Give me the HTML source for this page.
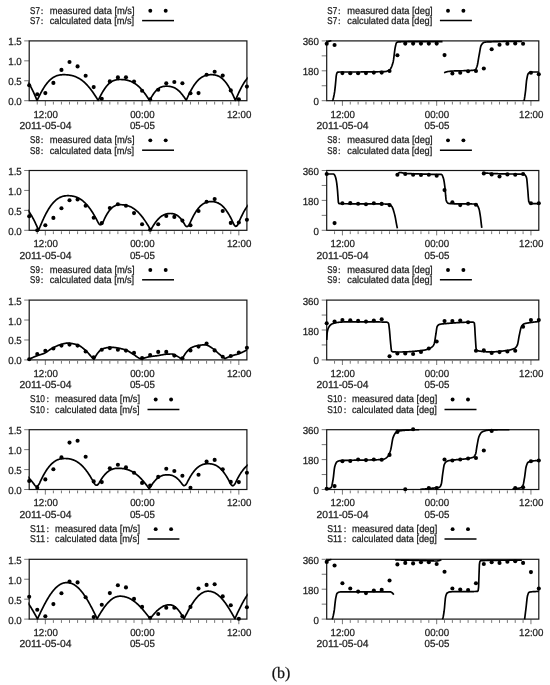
<!DOCTYPE html>
<html lang="en"><head><meta charset="utf-8"><title>Figure (b)</title>
<style>html,body{margin:0;padding:0;background:#fff}body{width:550px;height:685px;overflow:hidden}</style></head>
<body>
<svg width="550" height="685" viewBox="0 0 550 685" style="display:block;font-family:'Liberation Sans', 'Noto Sans CJK SC', sans-serif">
<style>text{stroke:#1a1a1a;stroke-width:0.25px;paint-order:stroke;text-rendering:geometricPrecision}</style>
<rect width="550" height="685" fill="#fff"/>
<defs>
<clipPath id="c00"><rect x="28.4" y="40.1" width="219.3" height="61.4"/></clipPath>
<clipPath id="c01"><rect x="325.9" y="40.1" width="213.7" height="61.4"/></clipPath>
<clipPath id="c10"><rect x="28.4" y="169.7" width="219.3" height="61.4"/></clipPath>
<clipPath id="c11"><rect x="325.9" y="169.7" width="213.7" height="61.4"/></clipPath>
<clipPath id="c20"><rect x="28.4" y="299.3" width="219.3" height="61.4"/></clipPath>
<clipPath id="c21"><rect x="325.9" y="299.3" width="213.7" height="61.4"/></clipPath>
<clipPath id="c30"><rect x="28.4" y="428.9" width="219.3" height="61.4"/></clipPath>
<clipPath id="c31"><rect x="325.9" y="428.9" width="213.7" height="61.4"/></clipPath>
<clipPath id="c40"><rect x="28.4" y="558.5" width="219.3" height="61.4"/></clipPath>
<clipPath id="c41"><rect x="325.9" y="558.5" width="213.7" height="61.4"/></clipPath>
</defs>
<text x="30.1" y="13.5" font-size="9.9" fill="#1a1a1a" textLength="9.8" lengthAdjust="spacingAndGlyphs">S7</text>
<text x="40.2" y="13.5" font-size="7.2" fill="#1a1a1a">：</text>
<text x="49.7" y="13.5" font-size="9.9" fill="#1a1a1a" textLength="84.9" lengthAdjust="spacingAndGlyphs">measured data [m/s]</text>
<text x="30.1" y="23.9" font-size="9.9" fill="#1a1a1a" textLength="9.8" lengthAdjust="spacingAndGlyphs">S7</text>
<text x="40.2" y="23.9" font-size="7.2" fill="#1a1a1a">：</text>
<text x="49.7" y="23.9" font-size="9.9" fill="#1a1a1a" textLength="84.5" lengthAdjust="spacingAndGlyphs">calculated data [m/s]</text>
<circle cx="150.3" cy="10.75" r="1.95" fill="#000"/>
<circle cx="165.7" cy="10.75" r="1.95" fill="#000"/>
<path d="M142.1 20.6H174" stroke="#000" stroke-width="1.5" fill="none"/>
<path d="M37.26 101.7v2.8M45.33 101v4.8M53.39 101.7v2.8M61.45 101.7v2.8M69.51 101.7v2.8M77.58 101.7v2.8M85.64 101.7v2.8M93.7 101.7v2.8M101.77 101.7v2.8M109.83 101.7v2.8M117.89 101.7v2.8M125.96 101.7v2.8M134.02 101.7v2.8M142.08 101v4.8M150.14 101.7v2.8M158.21 101.7v2.8M166.27 101.7v2.8M174.33 101.7v2.8M182.4 101.7v2.8M190.46 101.7v2.8M198.52 101.7v2.8M206.59 101.7v2.8M214.65 101.7v2.8M222.71 101.7v2.8M230.77 101.7v2.8M238.84 101v4.8" stroke="#777" stroke-width="1" fill="none"/>
<path d="M24.2 100.7h5M24.2 80.77h5M24.2 60.83h5M24.2 40.9h5" stroke="#777" stroke-width="1" fill="none"/>
<text x="8.26" y="105.2" font-size="10.2" fill="#1a1a1a" textLength="13.54" lengthAdjust="spacingAndGlyphs">0.0</text>
<text x="8.26" y="85.27" font-size="10.2" fill="#1a1a1a" textLength="13.54" lengthAdjust="spacingAndGlyphs">0.5</text>
<text x="8.26" y="65.33" font-size="10.2" fill="#1a1a1a" textLength="13.54" lengthAdjust="spacingAndGlyphs">1.0</text>
<text x="8.26" y="45.4" font-size="10.2" fill="#1a1a1a" textLength="13.54" lengthAdjust="spacingAndGlyphs">1.5</text>
<rect x="29.2" y="40.9" width="217.7" height="59.8" fill="none" stroke="#151515" stroke-width="1.2"/>
<text x="33.44" y="117.5" font-size="10.2" fill="#1a1a1a" textLength="24.38" lengthAdjust="spacingAndGlyphs">12:00</text>
<text x="19.43" y="129" font-size="10.2" fill="#1a1a1a" textLength="52.0" lengthAdjust="spacingAndGlyphs">2011-05-04</text>
<text x="130.19" y="117.5" font-size="10.2" fill="#1a1a1a" textLength="24.38" lengthAdjust="spacingAndGlyphs">00:00</text>
<text x="129.92" y="129" font-size="10.2" fill="#1a1a1a" textLength="24.91" lengthAdjust="spacingAndGlyphs">05-05</text>
<text x="226.95" y="117.5" font-size="10.2" fill="#1a1a1a" textLength="24.38" lengthAdjust="spacingAndGlyphs">12:00</text>
<path d="M11.1 71.88 L11.6 71.88 L12.1 71.9 L12.6 71.93 L13.1 71.96 L13.6 72.01 L14.1 72.08 L14.6 72.15 L15.1 72.24 L15.6 72.35 L16.1 72.48 L16.6 72.62 L17.1 72.78 L17.6 72.95 L18.1 73.15 L18.6 73.37 L19.1 73.61 L19.6 73.87 L20.1 74.16 L20.6 74.46 L21.1 74.8 L21.6 75.15 L22.1 75.54 L22.6 75.95 L23.1 76.39 L23.6 76.85 L24.1 77.35 L24.6 77.87 L25.1 78.42 L25.6 79 L26.1 79.61 L26.6 80.26 L27.1 80.93 L27.6 81.64 L28.1 82.37 L28.6 83.14 L29.1 83.94 L29.6 84.77 L30.1 85.63 L30.6 86.52 L31.1 87.44 L31.6 88.39 L32.1 89.36 L32.6 90.37 L33.1 91.4 L33.6 92.46 L34.1 93.55 L34.6 94.66 L35.1 95.79 L35.6 96.94 L36.1 98.11 L36.6 99.3 L37.1 100.5 L37.6 99.44 L38.1 98.39 L38.6 97.36 L39.1 96.34 L39.6 95.35 L40.1 94.37 L40.6 93.41 L41.1 92.47 L41.6 91.56 L42.1 90.66 L42.6 89.8 L43.1 88.95 L43.6 88.13 L44.1 87.34 L44.6 86.58 L45.1 85.84 L45.6 85.12 L46.1 84.44 L46.6 83.78 L47.1 83.14 L47.6 82.54 L48.1 81.96 L48.6 81.4 L49.1 80.88 L49.6 80.38 L50.1 79.9 L50.6 79.45 L51.1 79.02 L51.6 78.62 L52.1 78.25 L52.6 77.89 L53.1 77.56 L53.6 77.25 L54.1 76.96 L54.6 76.7 L55.1 76.45 L55.6 76.22 L56.1 76.01 L56.6 75.82 L57.1 75.65 L57.6 75.5 L58.1 75.36 L58.6 75.23 L59.1 75.13 L59.6 75.03 L60.1 74.95 L60.6 74.88 L61.1 74.82 L61.6 74.78 L62.1 74.74 L62.6 74.72 L63.1 74.71 L63.6 74.7 L63.7 74.7 L64.2 74.7 L64.7 74.71 L65.2 74.72 L65.7 74.74 L66.2 74.77 L66.7 74.8 L67.2 74.83 L67.7 74.88 L68.2 74.93 L68.7 74.99 L69.2 75.06 L69.7 75.13 L70.2 75.21 L70.7 75.31 L71.2 75.41 L71.7 75.52 L72.2 75.64 L72.7 75.77 L73.2 75.91 L73.7 76.06 L74.2 76.22 L74.7 76.39 L75.2 76.58 L75.7 76.78 L76.2 76.98 L76.7 77.21 L77.2 77.44 L77.7 77.69 L78.2 77.95 L78.7 78.22 L79.2 78.51 L79.7 78.81 L80.2 79.13 L80.7 79.46 L81.2 79.8 L81.7 80.16 L82.2 80.54 L82.7 80.93 L83.2 81.33 L83.7 81.76 L84.2 82.19 L84.7 82.65 L85.2 83.11 L85.7 83.6 L86.2 84.1 L86.7 84.62 L87.2 85.15 L87.7 85.7 L88.2 86.26 L88.7 86.84 L89.2 87.44 L89.7 88.05 L90.2 88.67 L90.7 89.32 L91.2 89.97 L91.7 90.64 L92.2 91.33 L92.7 92.03 L93.2 92.74 L93.7 93.47 L94.2 94.2 L94.7 94.95 L95.2 95.72 L95.7 96.49 L96.2 97.27 L96.7 98.07 L97.2 98.87 L97.7 99.68 L98.2 100.5 L98.7 99.45 L99.2 98.42 L99.7 97.41 L100.2 96.42 L100.7 95.45 L101.2 94.51 L101.7 93.59 L102.2 92.7 L102.7 91.83 L103.2 91 L103.7 90.2 L104.2 89.43 L104.7 88.69 L105.2 87.98 L105.7 87.3 L106.2 86.66 L106.7 86.05 L107.2 85.47 L107.7 84.92 L108.2 84.41 L108.7 83.92 L109.2 83.47 L109.7 83.04 L110.2 82.65 L110.7 82.28 L111.2 81.94 L111.7 81.63 L112.2 81.34 L112.7 81.08 L113.2 80.84 L113.7 80.63 L114.2 80.43 L114.7 80.26 L115.2 80.11 L115.7 79.98 L116.2 79.87 L116.7 79.77 L117.2 79.69 L117.7 79.63 L118.2 79.58 L118.7 79.54 L119.2 79.52 L119.7 79.5 L120.1 79.5 L120.6 79.5 L121.1 79.51 L121.6 79.53 L122.1 79.55 L122.6 79.57 L123.1 79.61 L123.6 79.65 L124.1 79.7 L124.6 79.76 L125.1 79.83 L125.6 79.91 L126.1 80 L126.6 80.09 L127.1 80.2 L127.6 80.32 L128.1 80.45 L128.6 80.59 L129.1 80.74 L129.6 80.91 L130.1 81.09 L130.6 81.28 L131.1 81.49 L131.6 81.71 L132.1 81.94 L132.6 82.19 L133.1 82.46 L133.6 82.74 L134.1 83.04 L134.6 83.35 L135.1 83.68 L135.6 84.02 L136.1 84.38 L136.6 84.76 L137.1 85.16 L137.6 85.57 L138.1 86.01 L138.6 86.45 L139.1 86.92 L139.6 87.41 L140.1 87.91 L140.6 88.43 L141.1 88.97 L141.6 89.52 L142.1 90.09 L142.6 90.68 L143.1 91.29 L143.6 91.91 L144.1 92.55 L144.6 93.21 L145.1 93.88 L145.6 94.56 L146.1 95.26 L146.6 95.98 L147.1 96.7 L147.6 97.44 L148.1 98.19 L148.6 98.95 L149.1 99.72 L149.6 100.5 L150.1 99.57 L150.6 98.67 L151.1 97.78 L151.6 96.92 L152.1 96.09 L152.6 95.29 L153.1 94.53 L153.6 93.8 L154.1 93.1 L154.6 92.44 L155.1 91.82 L155.6 91.23 L156.1 90.68 L156.6 90.17 L157.1 89.7 L157.6 89.26 L158.1 88.85 L158.6 88.48 L159.1 88.15 L159.6 87.85 L160.1 87.57 L160.6 87.33 L161.1 87.12 L161.6 86.93 L162.1 86.77 L162.6 86.63 L163.1 86.51 L163.6 86.42 L164.1 86.34 L164.6 86.28 L165.1 86.24 L165.6 86.22 L166.1 86.2 L166.4 86.2 L166.9 86.2 L167.4 86.22 L167.9 86.24 L168.4 86.27 L168.9 86.32 L169.4 86.37 L169.9 86.44 L170.4 86.53 L170.9 86.63 L171.4 86.74 L171.9 86.87 L172.4 87.02 L172.9 87.19 L173.4 87.38 L173.9 87.59 L174.4 87.82 L174.9 88.07 L175.4 88.34 L175.9 88.64 L176.4 88.96 L176.9 89.31 L177.4 89.68 L177.9 90.07 L178.4 90.5 L178.9 90.95 L179.4 91.42 L179.9 91.92 L180.4 92.45 L180.9 93.01 L181.4 93.59 L181.9 94.19 L182.4 94.82 L182.9 95.48 L183.4 96.15 L183.9 96.85 L184.4 97.57 L184.9 98.31 L185.4 99.06 L185.9 99.83 L186.2 100.3 L186.7 99.19 L187.2 98.09 L187.7 97 L188.2 95.94 L188.7 94.89 L189.2 93.87 L189.7 92.87 L190.2 91.9 L190.7 90.95 L191.2 90.02 L191.7 89.13 L192.2 88.26 L192.7 87.42 L193.2 86.61 L193.7 85.82 L194.2 85.07 L194.7 84.35 L195.2 83.66 L195.7 82.99 L196.2 82.36 L196.7 81.76 L197.2 81.18 L197.7 80.64 L198.2 80.12 L198.7 79.64 L199.2 79.18 L199.7 78.74 L200.2 78.34 L200.7 77.96 L201.2 77.6 L201.7 77.28 L202.2 76.97 L202.7 76.69 L203.2 76.43 L203.7 76.19 L204.2 75.97 L204.7 75.78 L205.2 75.6 L205.7 75.44 L206.2 75.3 L206.7 75.18 L207.2 75.07 L207.7 74.98 L208.2 74.9 L208.7 74.84 L209.2 74.79 L209.7 74.75 L210.2 74.72 L210.7 74.71 L211.2 74.7 L211.3 74.7 L211.8 74.71 L212.3 74.72 L212.8 74.75 L213.3 74.79 L213.8 74.84 L214.3 74.91 L214.8 74.99 L215.3 75.09 L215.8 75.2 L216.3 75.34 L216.8 75.49 L217.3 75.66 L217.8 75.85 L218.3 76.07 L218.8 76.3 L219.3 76.56 L219.8 76.84 L220.3 77.15 L220.8 77.49 L221.3 77.85 L221.8 78.24 L222.3 78.66 L222.8 79.1 L223.3 79.58 L223.8 80.08 L224.3 80.62 L224.8 81.19 L225.3 81.79 L225.8 82.42 L226.3 83.09 L226.8 83.79 L227.3 84.52 L227.8 85.28 L228.3 86.07 L228.8 86.9 L229.3 87.76 L229.8 88.65 L230.3 89.58 L230.8 90.53 L231.3 91.51 L231.8 92.52 L232.3 93.56 L232.8 94.62 L233.3 95.71 L233.8 96.82 L234.3 97.95 L234.8 99.1 L235.3 100.26 L235.4 100.5 L235.9 99.29 L236.4 98.1 L236.9 96.92 L237.4 95.76 L237.9 94.63 L238.4 93.51 L238.9 92.42 L239.4 91.36 L239.9 90.32 L240.4 89.31 L240.9 88.33 L241.4 87.37 L241.9 86.45 L242.4 85.55 L242.9 84.69 L243.4 83.86 L243.9 83.06 L244.4 82.29 L244.9 81.55 L245.4 80.84 L245.9 80.16 L246.4 79.52 L246.9 78.9 L247.4 78.32 L247.9 77.76 L248.4 77.24 L248.9 76.74 L249.4 76.27 L249.9 75.83 L250.4 75.42 L250.9 75.03 L251.4 74.67 L251.9 74.34 L252.4 74.03 L252.9 73.74 L253.4 73.48 L253.9 73.24 L254.4 73.02 L254.9 72.82 L255.4 72.64 L255.9 72.48 L256.4 72.34 L256.9 72.22 L257.4 72.11 L257.9 72.02 L258.4 71.94 L258.9 71.88 L259.4 71.83 L259.9 71.79 L260.4 71.76 L260.9 71.75 L261.4 71.74" fill="none" stroke="#000" stroke-width="1.7" stroke-linejoin="round" stroke-linecap="butt" clip-path="url(#c00)"/>
<g fill="#000"><circle cx="29.2" cy="85.2" r="2.05"/><circle cx="37.26" cy="94.2" r="2.05"/><circle cx="45.33" cy="93.1" r="2.05"/><circle cx="53.39" cy="82.9" r="2.05"/><circle cx="61.45" cy="69.9" r="2.05"/><circle cx="69.51" cy="62" r="2.05"/><circle cx="77.58" cy="66.4" r="2.05"/><circle cx="85.64" cy="75.8" r="2.05"/><circle cx="93.7" cy="87.1" r="2.05"/><circle cx="101.77" cy="98.8" r="2.05"/><circle cx="109.83" cy="81.4" r="2.05"/><circle cx="117.89" cy="77.4" r="2.05"/><circle cx="125.96" cy="77.2" r="2.05"/><circle cx="134.02" cy="81.6" r="2.05"/><circle cx="142.08" cy="90.8" r="2.05"/><circle cx="150.14" cy="99.4" r="2.05"/><circle cx="158.21" cy="89.8" r="2.05"/><circle cx="166.27" cy="83.3" r="2.05"/><circle cx="174.33" cy="82" r="2.05"/><circle cx="182.4" cy="83.3" r="2.05"/><circle cx="190.46" cy="93.3" r="2.05"/><circle cx="198.52" cy="93.1" r="2.05"/><circle cx="206.59" cy="74.7" r="2.05"/><circle cx="214.65" cy="71.8" r="2.05"/><circle cx="222.71" cy="75.6" r="2.05"/><circle cx="230.77" cy="90.4" r="2.05"/><circle cx="238.84" cy="99.2" r="2.05"/><circle cx="246.9" cy="86.6" r="2.05"/></g>
<text x="327.3" y="13.5" font-size="9.9" fill="#1a1a1a" textLength="9.8" lengthAdjust="spacingAndGlyphs">S7</text>
<text x="337.4" y="13.5" font-size="7.2" fill="#1a1a1a">：</text>
<text x="347.3" y="13.5" font-size="9.9" fill="#1a1a1a" textLength="85.4" lengthAdjust="spacingAndGlyphs">measured data [deg]</text>
<text x="327.3" y="23.9" font-size="9.9" fill="#1a1a1a" textLength="9.8" lengthAdjust="spacingAndGlyphs">S7</text>
<text x="337.4" y="23.9" font-size="7.2" fill="#1a1a1a">：</text>
<text x="347.3" y="23.9" font-size="9.9" fill="#1a1a1a" textLength="85" lengthAdjust="spacingAndGlyphs">calculated data [deg]</text>
<circle cx="448" cy="10.75" r="1.95" fill="#000"/>
<circle cx="463.4" cy="10.75" r="1.95" fill="#000"/>
<path d="M439.9 20.6H471.9" stroke="#000" stroke-width="1.5" fill="none"/>
<path d="M334.56 101.7v2.8M342.41 101v4.8M350.27 101.7v2.8M358.12 101.7v2.8M365.98 101.7v2.8M373.83 101.7v2.8M381.69 101.7v2.8M389.54 101.7v2.8M397.4 101.7v2.8M405.26 101.7v2.8M413.11 101.7v2.8M420.97 101.7v2.8M428.82 101.7v2.8M436.68 101v4.8M444.53 101.7v2.8M452.39 101.7v2.8M460.24 101.7v2.8M468.1 101.7v2.8M475.96 101.7v2.8M483.81 101.7v2.8M491.67 101.7v2.8M499.52 101.7v2.8M507.38 101.7v2.8M515.23 101.7v2.8M523.09 101.7v2.8M530.94 101v4.8" stroke="#777" stroke-width="1" fill="none"/>
<path d="M321.7 100.7h5M321.7 85.75h5M321.7 70.8h5M321.7 55.85h5M321.7 40.9h5" stroke="#777" stroke-width="1" fill="none"/>
<text x="313.48" y="105.2" font-size="10.2" fill="#1a1a1a" textLength="5.42" lengthAdjust="spacingAndGlyphs">0</text>
<text x="302.65" y="75.3" font-size="10.2" fill="#1a1a1a" textLength="16.25" lengthAdjust="spacingAndGlyphs">180</text>
<text x="302.65" y="45.4" font-size="10.2" fill="#1a1a1a" textLength="16.25" lengthAdjust="spacingAndGlyphs">360</text>
<rect x="326.7" y="40.9" width="212.1" height="59.8" fill="none" stroke="#151515" stroke-width="1.2"/>
<text x="330.52" y="117.5" font-size="10.2" fill="#1a1a1a" textLength="24.38" lengthAdjust="spacingAndGlyphs">12:00</text>
<text x="316.51" y="129" font-size="10.2" fill="#1a1a1a" textLength="52.0" lengthAdjust="spacingAndGlyphs">2011-05-04</text>
<text x="424.79" y="117.5" font-size="10.2" fill="#1a1a1a" textLength="24.38" lengthAdjust="spacingAndGlyphs">00:00</text>
<text x="424.52" y="129" font-size="10.2" fill="#1a1a1a" textLength="24.91" lengthAdjust="spacingAndGlyphs">05-05</text>
<text x="519.06" y="117.5" font-size="10.2" fill="#1a1a1a" textLength="24.38" lengthAdjust="spacingAndGlyphs">12:00</text>
<path d="M326.7 42.3 L331.4 40.5 M332.2 100.9 L332.6 100.46 L333 99.45 L333.4 97.98 L333.8 96.19 L334.21 94.2 L334.61 91.92 L335.01 88.6 L335.41 84.92 L335.81 80.52 L336.21 76.13 L336.61 73.95 L337.01 72.91 L337.41 72.3 L337.82 72.16 L338.22 72.11 L338.62 72.06 L339.02 72.03 L339.42 72.01 L339.82 72 L340.22 72 L340.62 72 L341.02 72 L341.43 72 L341.83 72 L342.23 72 L342.63 72 L343.03 72 L343.43 72 L343.83 72 L344.23 72 L344.63 72 L345.03 72 L345.44 72 L345.84 72 L346.24 72 L346.64 72 L347.04 72 L347.44 72 L347.84 72 L348.24 72 L348.64 72 L349.05 72 L349.45 72 L349.85 72 L350.25 72 L350.65 72 L351.05 72 L351.45 72 L351.85 72 L352.25 72 L352.66 72 L353.06 72 L353.46 72 L353.86 72 L354.26 72 L354.66 72 L355.06 72 L355.46 71.99 L355.86 71.99 L356.27 71.99 L356.67 71.99 L357.07 71.99 L357.47 71.99 L357.87 71.99 L358.27 71.99 L358.67 71.99 L359.07 71.98 L359.47 71.98 L359.88 71.98 L360.28 71.98 L360.68 71.98 L361.08 71.97 L361.48 71.97 L361.88 71.97 L362.28 71.97 L362.68 71.96 L363.08 71.96 L363.49 71.96 L363.89 71.96 L364.29 71.95 L364.69 71.95 L365.09 71.95 L365.49 71.94 L365.89 71.94 L366.29 71.94 L366.69 71.93 L367.09 71.93 L367.5 71.93 L367.9 71.92 L368.3 71.92 L368.7 71.91 L369.1 71.91 L369.5 71.9 L369.9 71.9 L370.3 71.89 L370.7 71.89 L371.11 71.88 L371.51 71.88 L371.91 71.87 L372.31 71.87 L372.71 71.86 L373.11 71.85 L373.51 71.85 L373.91 71.84 L374.31 71.84 L374.72 71.83 L375.12 71.82 L375.52 71.81 L375.92 71.81 L376.32 71.8 L376.72 71.79 L377.12 71.78 L377.52 71.78 L377.92 71.77 L378.33 71.76 L378.73 71.75 L379.13 71.74 L379.53 71.73 L379.93 71.72 L380.33 71.71 L380.73 71.71 L381.13 71.7 L381.53 71.69 L381.94 71.68 L382.34 71.67 L382.74 71.65 L383.14 71.64 L383.54 71.63 L383.94 71.62 L384.34 71.61 L384.74 71.6 L385.14 71.57 L385.55 71.52 L385.95 71.44 L386.35 71.34 L386.75 71.21 L387.15 71.06 L387.55 70.89 L387.95 70.7 L388.35 70.49 L388.75 70.26 L389.15 70.01 L389.56 69.74 L389.96 69.46 L390.36 69.05 L390.76 68.47 L391.16 67.73 L391.56 66.84 L391.96 65.81 L392.36 64.64 L392.76 63.36 L393.17 61.95 L393.57 59.7 L393.97 56.64 L394.37 53.26 L394.77 50.09 L395.17 47.63 L395.57 45.78 L395.97 44.08 L396.37 42.91 L396.78 42.49 L397.18 42.27 L397.58 42.09 L397.98 41.95 L398.38 41.86 L398.78 41.81 L399.18 41.8 L399.58 41.79 L399.98 41.79 L400.39 41.78 L400.79 41.78 L401.19 41.77 L401.59 41.77 L401.99 41.77 L402.39 41.76 L402.79 41.76 L403.19 41.76 L403.59 41.75 L404 41.75 L404.4 41.75 L404.8 41.74 L405.2 41.74 L405.6 41.74 L406 41.73 L406.4 41.73 L406.8 41.73 L407.2 41.73 L407.61 41.73 L408.01 41.72 L408.41 41.72 L408.81 41.72 L409.21 41.72 L409.61 41.72 L410.01 41.71 L410.41 41.71 L410.81 41.71 L411.21 41.71 L411.62 41.71 L412.02 41.71 L412.42 41.71 L412.82 41.71 L413.22 41.71 L413.62 41.71 L414.02 41.7 L414.42 41.7 L414.82 41.7 L415.23 41.7 L415.63 41.7 L416.03 41.7 L416.43 41.7 L416.83 41.7 L417.23 41.7 L417.63 41.7 L418.03 41.7 L418.43 41.7 L418.84 41.7 L419.24 41.7 L419.64 41.7 L420.04 41.7 L420.44 41.7 L420.84 41.7 L421.24 41.7 L421.64 41.7 L422.04 41.7 L422.45 41.7 L422.85 41.7 L423.25 41.7 L423.65 41.7 L424.05 41.7 L424.45 41.7 L424.85 41.7 L425.25 41.7 L425.65 41.7 L426.06 41.7 L426.46 41.7 L426.86 41.7 L427.26 41.7 L427.66 41.7 L428.06 41.7 L428.46 41.7 L428.86 41.7 L429.26 41.7 L429.67 41.7 L430.07 41.7 L430.47 41.7 L430.87 41.7 L431.27 41.7 L431.67 41.7 L432.07 41.7 L432.47 41.7 L432.87 41.7 L433.27 41.7 L433.68 41.7 L434.08 41.7 L434.48 41.7 L434.88 41.7 L435.28 41.7 L435.68 41.7 L436.08 41.7 L436.48 41.7 L436.88 41.7 L437.29 41.7 L437.69 41.7 L438.09 41.7 L438.49 41.7 L438.89 41.7 L439.29 41.7 L439.69 41.7 L440.09 41.7 L440.49 41.7 L440.9 41.7 L441.3 41.7 L441.7 41.7 L442.1 41.7 L442.5 41.7 M444.1 72.8 L444.5 72.63 L444.9 72.46 L445.3 72.3 L445.7 72.15 L446.11 72.01 L446.51 71.89 L446.91 71.77 L447.31 71.68 L447.71 71.6 L448.11 71.53 L448.51 71.47 L448.91 71.41 L449.31 71.36 L449.71 71.31 L450.12 71.26 L450.52 71.22 L450.92 71.19 L451.32 71.15 L451.72 71.12 L452.12 71.09 L452.52 71.06 L452.92 71.04 L453.32 71.02 L453.72 70.99 L454.13 70.97 L454.53 70.95 L454.93 70.94 L455.33 70.92 L455.73 70.9 L456.13 70.89 L456.53 70.87 L456.93 70.86 L457.33 70.85 L457.74 70.84 L458.14 70.83 L458.54 70.82 L458.94 70.81 L459.34 70.8 L459.74 70.79 L460.14 70.79 L460.54 70.78 L460.94 70.77 L461.34 70.77 L461.75 70.76 L462.15 70.75 L462.55 70.75 L462.95 70.74 L463.35 70.73 L463.75 70.72 L464.15 70.71 L464.55 70.71 L464.95 70.7 L465.35 70.69 L465.76 70.68 L466.16 70.67 L466.56 70.65 L466.96 70.64 L467.36 70.63 L467.76 70.61 L468.16 70.6 L468.56 70.58 L468.96 70.56 L469.36 70.54 L469.77 70.52 L470.17 70.5 L470.57 70.48 L470.97 70.45 L471.37 70.42 L471.77 70.39 L472.17 70.36 L472.57 70.33 L472.97 70.3 L473.38 70.26 L473.78 70.22 L474.18 70.18 L474.58 70.14 L474.98 70.08 L475.38 69.8 L475.78 69.23 L476.18 68.43 L476.58 67.48 L476.98 66.44 L477.39 65.02 L477.79 62.99 L478.19 60.63 L478.59 58.19 L478.99 55.95 L479.39 53.74 L479.79 51.34 L480.19 49.02 L480.59 47.06 L480.99 45.72 L481.4 45 L481.8 44.39 L482.2 43.85 L482.6 43.39 L483 43 L483.4 42.69 L483.8 42.46 L484.2 42.32 L484.6 42.24 L485.01 42.17 L485.41 42.11 L485.81 42.06 L486.21 42.02 L486.61 41.98 L487.01 41.95 L487.41 41.93 L487.81 41.91 L488.21 41.89 L488.61 41.88 L489.02 41.86 L489.42 41.85 L489.82 41.83 L490.22 41.82 L490.62 41.81 L491.02 41.79 L491.42 41.78 L491.82 41.77 L492.22 41.75 L492.62 41.74 L493.03 41.73 L493.43 41.71 L493.83 41.7 L494.23 41.69 L494.63 41.68 L495.03 41.67 L495.43 41.66 L495.83 41.64 L496.23 41.63 L496.64 41.62 L497.04 41.61 L497.44 41.6 L497.84 41.59 L498.24 41.58 L498.64 41.57 L499.04 41.56 L499.44 41.55 L499.84 41.54 L500.24 41.53 L500.65 41.52 L501.05 41.52 L501.45 41.51 L501.85 41.5 L502.25 41.49 L502.65 41.48 L503.05 41.47 L503.45 41.47 L503.85 41.46 L504.25 41.45 L504.66 41.45 L505.06 41.44 L505.46 41.43 L505.86 41.43 L506.26 41.42 L506.66 41.41 L507.06 41.41 L507.46 41.4 L507.86 41.4 L508.26 41.39 L508.67 41.38 L509.07 41.38 L509.47 41.37 L509.87 41.37 L510.27 41.36 L510.67 41.36 L511.07 41.36 L511.47 41.35 L511.87 41.35 L512.28 41.34 L512.68 41.34 L513.08 41.34 L513.48 41.33 L513.88 41.33 L514.28 41.33 L514.68 41.32 L515.08 41.32 L515.48 41.32 L515.88 41.32 L516.29 41.31 L516.69 41.31 L517.09 41.31 L517.49 41.31 L517.89 41.31 L518.29 41.31 L518.69 41.3 L519.09 41.3 L519.49 41.3 L519.89 41.3 L520.3 41.3 L520.7 41.3 L521.1 41.3 L521.5 41.3 L521.9 41.3 M524 100.9 L524.41 98.96 L524.82 96.44 L525.23 93.48 L525.64 90.08 L526.06 85.32 L526.47 81.22 L526.88 78.72 L527.29 76.56 L527.7 74.88 L528.11 73.83 L528.52 73.32 L528.93 72.91 L529.34 72.59 L529.76 72.36 L530.17 72.22 L530.58 72.16 L530.99 72.11 L531.4 72.07 L531.81 72.04 L532.22 72.02 L532.63 72 L533.04 72 L533.46 72 L533.87 72 L534.28 72 L534.69 72 L535.1 72 L535.51 72 L535.92 72 L536.33 72 L536.74 72 L537.16 72 L537.57 72 L537.98 72 L538.39 72 L538.8 72" fill="none" stroke="#000" stroke-width="1.7" stroke-linejoin="round" stroke-linecap="butt" clip-path="url(#c01)"/>
<g fill="#000"><circle cx="326.7" cy="43.8" r="2.05"/><circle cx="334.56" cy="45" r="2.05"/><circle cx="342.41" cy="73.1" r="2.05"/><circle cx="350.27" cy="73.3" r="2.05"/><circle cx="358.12" cy="73.3" r="2.05"/><circle cx="365.98" cy="73.1" r="2.05"/><circle cx="373.83" cy="72.6" r="2.05"/><circle cx="381.69" cy="72.6" r="2.05"/><circle cx="389.54" cy="71" r="2.05"/><circle cx="397.4" cy="55.3" r="2.05"/><circle cx="405.26" cy="43.6" r="2.05"/><circle cx="413.11" cy="43.6" r="2.05"/><circle cx="420.97" cy="43.6" r="2.05"/><circle cx="428.82" cy="43.6" r="2.05"/><circle cx="436.68" cy="43.6" r="2.05"/><circle cx="444.53" cy="55.1" r="2.05"/><circle cx="452.39" cy="73.5" r="2.05"/><circle cx="460.24" cy="72.8" r="2.05"/><circle cx="468.1" cy="71.2" r="2.05"/><circle cx="475.96" cy="71" r="2.05"/><circle cx="483.81" cy="68.5" r="2.05"/><circle cx="491.67" cy="49.2" r="2.05"/><circle cx="499.52" cy="44.8" r="2.05"/><circle cx="507.38" cy="43.8" r="2.05"/><circle cx="515.23" cy="43.4" r="2.05"/><circle cx="523.09" cy="43.8" r="2.05"/><circle cx="530.94" cy="72.8" r="2.05"/><circle cx="538.8" cy="74.3" r="2.05"/></g>
<text x="30.1" y="143.1" font-size="9.9" fill="#1a1a1a" textLength="9.8" lengthAdjust="spacingAndGlyphs">S8</text>
<text x="40.2" y="143.1" font-size="7.2" fill="#1a1a1a">：</text>
<text x="49.7" y="143.1" font-size="9.9" fill="#1a1a1a" textLength="84.9" lengthAdjust="spacingAndGlyphs">measured data [m/s]</text>
<text x="30.1" y="153.5" font-size="9.9" fill="#1a1a1a" textLength="9.8" lengthAdjust="spacingAndGlyphs">S8</text>
<text x="40.2" y="153.5" font-size="7.2" fill="#1a1a1a">：</text>
<text x="49.7" y="153.5" font-size="9.9" fill="#1a1a1a" textLength="84.5" lengthAdjust="spacingAndGlyphs">calculated data [m/s]</text>
<circle cx="150.3" cy="140.35" r="1.95" fill="#000"/>
<circle cx="165.7" cy="140.35" r="1.95" fill="#000"/>
<path d="M142.1 150.2H174" stroke="#000" stroke-width="1.5" fill="none"/>
<path d="M37.26 231.3v2.8M45.33 230.6v4.8M53.39 231.3v2.8M61.45 231.3v2.8M69.51 231.3v2.8M77.58 231.3v2.8M85.64 231.3v2.8M93.7 231.3v2.8M101.77 231.3v2.8M109.83 231.3v2.8M117.89 231.3v2.8M125.96 231.3v2.8M134.02 231.3v2.8M142.08 230.6v4.8M150.14 231.3v2.8M158.21 231.3v2.8M166.27 231.3v2.8M174.33 231.3v2.8M182.4 231.3v2.8M190.46 231.3v2.8M198.52 231.3v2.8M206.59 231.3v2.8M214.65 231.3v2.8M222.71 231.3v2.8M230.77 231.3v2.8M238.84 230.6v4.8" stroke="#777" stroke-width="1" fill="none"/>
<path d="M24.2 230.3h5M24.2 210.37h5M24.2 190.43h5M24.2 170.5h5" stroke="#777" stroke-width="1" fill="none"/>
<text x="8.26" y="234.8" font-size="10.2" fill="#1a1a1a" textLength="13.54" lengthAdjust="spacingAndGlyphs">0.0</text>
<text x="8.26" y="214.87" font-size="10.2" fill="#1a1a1a" textLength="13.54" lengthAdjust="spacingAndGlyphs">0.5</text>
<text x="8.26" y="194.93" font-size="10.2" fill="#1a1a1a" textLength="13.54" lengthAdjust="spacingAndGlyphs">1.0</text>
<text x="8.26" y="175" font-size="10.2" fill="#1a1a1a" textLength="13.54" lengthAdjust="spacingAndGlyphs">1.5</text>
<rect x="29.2" y="170.5" width="217.7" height="59.8" fill="none" stroke="#151515" stroke-width="1.2"/>
<text x="33.44" y="247.1" font-size="10.2" fill="#1a1a1a" textLength="24.38" lengthAdjust="spacingAndGlyphs">12:00</text>
<text x="19.43" y="258.6" font-size="10.2" fill="#1a1a1a" textLength="52.0" lengthAdjust="spacingAndGlyphs">2011-05-04</text>
<text x="130.19" y="247.1" font-size="10.2" fill="#1a1a1a" textLength="24.38" lengthAdjust="spacingAndGlyphs">00:00</text>
<text x="129.92" y="258.6" font-size="10.2" fill="#1a1a1a" textLength="24.91" lengthAdjust="spacingAndGlyphs">05-05</text>
<text x="226.95" y="247.1" font-size="10.2" fill="#1a1a1a" textLength="24.38" lengthAdjust="spacingAndGlyphs">12:00</text>
<path d="M12.6 201.77 L13.1 201.78 L13.6 201.8 L14.1 201.83 L14.6 201.87 L15.1 201.92 L15.6 202 L16.1 202.08 L16.6 202.18 L17.1 202.3 L17.6 202.44 L18.1 202.59 L18.6 202.76 L19.1 202.96 L19.6 203.17 L20.1 203.4 L20.6 203.66 L21.1 203.94 L21.6 204.24 L22.1 204.56 L22.6 204.91 L23.1 205.28 L23.6 205.68 L24.1 206.1 L24.6 206.55 L25.1 207.03 L25.6 207.53 L26.1 208.07 L26.6 208.63 L27.1 209.22 L27.6 209.83 L28.1 210.48 L28.6 211.15 L29.1 211.86 L29.6 212.59 L30.1 213.35 L30.6 214.14 L31.1 214.96 L31.6 215.8 L32.1 216.68 L32.6 217.58 L33.1 218.51 L33.6 219.46 L34.1 220.44 L34.6 221.44 L35.1 222.47 L35.6 223.52 L36.1 224.59 L36.6 225.67 L37.1 226.78 L37.6 227.91 L38.1 229.05 L38.6 230.2 L39.1 228.96 L39.6 227.73 L40.1 226.51 L40.6 225.31 L41.1 224.13 L41.6 222.96 L42.1 221.82 L42.6 220.69 L43.1 219.59 L43.6 218.5 L44.1 217.45 L44.6 216.41 L45.1 215.4 L45.6 214.41 L46.1 213.45 L46.6 212.52 L47.1 211.61 L47.6 210.73 L48.1 209.88 L48.6 209.06 L49.1 208.26 L49.6 207.49 L50.1 206.74 L50.6 206.03 L51.1 205.34 L51.6 204.68 L52.1 204.05 L52.6 203.44 L53.1 202.86 L53.6 202.31 L54.1 201.78 L54.6 201.28 L55.1 200.81 L55.6 200.36 L56.1 199.93 L56.6 199.53 L57.1 199.15 L57.6 198.8 L58.1 198.46 L58.6 198.15 L59.1 197.87 L59.6 197.6 L60.1 197.35 L60.6 197.13 L61.1 196.92 L61.6 196.73 L62.1 196.56 L62.6 196.41 L63.1 196.27 L63.6 196.15 L64.1 196.05 L64.6 195.96 L65.1 195.88 L65.6 195.82 L66.1 195.77 L66.6 195.74 L67.1 195.71 L67.6 195.7 L67.9 195.7 L68.4 195.7 L68.9 195.72 L69.4 195.74 L69.9 195.77 L70.4 195.8 L70.9 195.85 L71.4 195.91 L71.9 195.98 L72.4 196.06 L72.9 196.15 L73.4 196.25 L73.9 196.37 L74.4 196.5 L74.9 196.64 L75.4 196.79 L75.9 196.96 L76.4 197.14 L76.9 197.33 L77.4 197.55 L77.9 197.77 L78.4 198.01 L78.9 198.27 L79.4 198.55 L79.9 198.84 L80.4 199.14 L80.9 199.47 L81.4 199.81 L81.9 200.17 L82.4 200.55 L82.9 200.95 L83.4 201.37 L83.9 201.8 L84.4 202.26 L84.9 202.73 L85.4 203.23 L85.9 203.74 L86.4 204.28 L86.9 204.83 L87.4 205.41 L87.9 206 L88.4 206.62 L88.9 207.25 L89.4 207.91 L89.9 208.58 L90.4 209.28 L90.9 210 L91.4 210.74 L91.9 211.49 L92.4 212.27 L92.9 213.06 L93.4 213.88 L93.9 214.71 L94.4 215.57 L94.9 216.44 L95.4 217.33 L95.9 218.24 L96.4 219.16 L96.9 220.1 L97.4 221.05 L97.9 222.02 L98.4 222.98 L98.9 223.77 L99.4 224.34 L99.9 224.67 L100.4 224.79 L100.7 224.75 L101.2 224.55 L101.7 224.18 L102.2 223.57 L102.7 222.74 L103.2 221.73 L103.7 220.61 L104.2 219.51 L104.7 218.46 L105.2 217.44 L105.7 216.46 L106.2 215.52 L106.7 214.63 L107.2 213.78 L107.7 212.97 L108.2 212.2 L108.7 211.48 L109.2 210.8 L109.7 210.17 L110.2 209.57 L110.7 209.01 L111.2 208.5 L111.7 208.02 L112.2 207.58 L112.7 207.18 L113.2 206.81 L113.7 206.48 L114.2 206.18 L114.7 205.91 L115.2 205.68 L115.7 205.47 L116.2 205.29 L116.7 205.14 L117.2 205.01 L117.7 204.91 L118.2 204.83 L118.7 204.77 L119.2 204.73 L119.7 204.71 L120.1 204.7 L120.6 204.7 L121.1 204.71 L121.6 204.73 L122.1 204.76 L122.6 204.8 L123.1 204.84 L123.6 204.89 L124.1 204.96 L124.6 205.03 L125.1 205.12 L125.6 205.21 L126.1 205.32 L126.6 205.44 L127.1 205.57 L127.6 205.71 L128.1 205.86 L128.6 206.03 L129.1 206.22 L129.6 206.41 L130.1 206.62 L130.6 206.85 L131.1 207.09 L131.6 207.35 L132.1 207.62 L132.6 207.91 L133.1 208.21 L133.6 208.53 L134.1 208.87 L134.6 209.22 L135.1 209.6 L135.6 209.99 L136.1 210.39 L136.6 210.82 L137.1 211.26 L137.6 211.73 L138.1 212.21 L138.6 212.71 L139.1 213.23 L139.6 213.76 L140.1 214.32 L140.6 214.89 L141.1 215.48 L141.6 216.09 L142.1 216.72 L142.6 217.37 L143.1 218.03 L143.6 218.71 L144.1 219.41 L144.6 220.13 L145.1 220.86 L145.6 221.61 L146.1 222.37 L146.6 223.15 L147.1 223.94 L147.6 224.75 L148.1 225.56 L148.6 226.4 L149.1 227.24 L149.6 228.09 L150.1 228.95 L150.6 229.82 L150.7 230 L151.2 229.12 L151.7 228.26 L152.2 227.41 L152.7 226.58 L153.2 225.77 L153.7 224.99 L154.2 224.22 L154.7 223.48 L155.2 222.77 L155.7 222.08 L156.2 221.42 L156.7 220.79 L157.2 220.19 L157.7 219.61 L158.2 219.07 L158.7 218.55 L159.2 218.06 L159.7 217.6 L160.2 217.17 L160.7 216.77 L161.2 216.39 L161.7 216.04 L162.2 215.72 L162.7 215.42 L163.2 215.15 L163.7 214.9 L164.2 214.68 L164.7 214.48 L165.2 214.3 L165.7 214.14 L166.2 214 L166.7 213.88 L167.2 213.78 L167.7 213.7 L168.2 213.63 L168.7 213.58 L169.2 213.54 L169.7 213.51 L170.2 213.5 L170.5 213.5 L171 213.51 L171.5 213.53 L172 213.57 L172.5 213.63 L173 213.71 L173.5 213.81 L174 213.94 L174.5 214.09 L175 214.27 L175.5 214.47 L176 214.71 L176.5 214.97 L177 215.27 L177.5 215.6 L178 215.96 L178.5 216.36 L179 216.79 L179.5 217.27 L180 217.78 L180.5 218.33 L181 218.92 L181.5 219.55 L182 220.23 L182.5 220.94 L183 221.69 L183.5 222.48 L184 223.3 L184.5 224.15 L185 225.01 L185.5 225.72 L186 226.23 L186.5 226.52 L187 226.61 L187.3 226.53 L187.8 226.32 L188.3 225.93 L188.8 225.32 L189.3 224.49 L189.8 223.47 L190.3 222.34 L190.8 221.24 L191.3 220.16 L191.8 219.11 L192.3 218.09 L192.8 217.1 L193.3 216.14 L193.8 215.21 L194.3 214.32 L194.8 213.46 L195.3 212.63 L195.8 211.84 L196.3 211.08 L196.8 210.35 L197.3 209.66 L197.8 209 L198.3 208.37 L198.8 207.78 L199.3 207.21 L199.8 206.68 L200.3 206.18 L200.8 205.71 L201.3 205.27 L201.8 204.86 L202.3 204.48 L202.8 204.13 L203.3 203.8 L203.8 203.5 L204.3 203.23 L204.8 202.98 L205.3 202.75 L205.8 202.55 L206.3 202.37 L206.8 202.21 L207.3 202.07 L207.8 201.96 L208.3 201.86 L208.8 201.77 L209.3 201.71 L209.8 201.66 L210.3 201.63 L210.8 201.61 L211.3 201.6 L211.8 201.61 L212.3 201.62 L212.8 201.66 L213.3 201.7 L213.8 201.76 L214.3 201.84 L214.8 201.94 L215.3 202.05 L215.8 202.18 L216.3 202.32 L216.8 202.49 L217.3 202.68 L217.8 202.89 L218.3 203.13 L218.8 203.38 L219.3 203.66 L219.8 203.97 L220.3 204.3 L220.8 204.65 L221.3 205.04 L221.8 205.45 L222.3 205.89 L222.8 206.35 L223.3 206.85 L223.8 207.38 L224.3 207.93 L224.8 208.52 L225.3 209.13 L225.8 209.78 L226.3 210.46 L226.8 211.17 L227.3 211.91 L227.8 212.68 L228.3 213.49 L228.8 214.32 L229.3 215.19 L229.8 216.09 L230.3 217.02 L230.8 217.98 L231.3 218.97 L231.8 219.98 L232.3 221.03 L232.8 222.09 L233.3 223.18 L233.8 224.25 L234.3 225.12 L234.8 225.77 L235.3 226.16 L235.8 226.32 L236 226.31 L236.5 226.13 L237 225.74 L237.5 225.11 L238 224.22 L238.5 223.13 L239 221.94 L239.5 220.76 L240 219.61 L240.5 218.49 L241 217.39 L241.5 216.32 L242 215.28 L242.5 214.28 L243 213.3 L243.5 212.36 L244 211.45 L244.5 210.57 L245 209.72 L245.5 208.91 L246 208.13 L246.5 207.38 L247 206.66 L247.5 205.97 L248 205.32 L248.5 204.7 L249 204.1 L249.5 203.54 L250 203.01 L250.5 202.51 L251 202.04 L251.5 201.6 L252 201.18 L252.5 200.8 L253 200.44 L253.5 200.1 L254 199.8 L254.5 199.51 L255 199.25 L255.5 199.02 L256 198.8 L256.5 198.61 L257 198.44 L257.5 198.29 L258 198.16 L258.5 198.04 L259 197.95 L259.5 197.87 L260 197.81 L260.5 197.76 L261 197.73 L261.5 197.71 L262 197.7" fill="none" stroke="#000" stroke-width="1.7" stroke-linejoin="round" stroke-linecap="butt" clip-path="url(#c10)"/>
<g fill="#000"><circle cx="29.2" cy="216.2" r="2.05"/><circle cx="37.26" cy="230.2" r="2.05"/><circle cx="45.33" cy="225.2" r="2.05"/><circle cx="53.39" cy="217.9" r="2.05"/><circle cx="61.45" cy="208.3" r="2.05"/><circle cx="69.51" cy="200.3" r="2.05"/><circle cx="77.58" cy="199.5" r="2.05"/><circle cx="85.64" cy="205.8" r="2.05"/><circle cx="93.7" cy="217.7" r="2.05"/><circle cx="101.77" cy="223.1" r="2.05"/><circle cx="109.83" cy="208.1" r="2.05"/><circle cx="117.89" cy="204.3" r="2.05"/><circle cx="125.96" cy="205.8" r="2.05"/><circle cx="134.02" cy="213.1" r="2.05"/><circle cx="142.08" cy="224.2" r="2.05"/><circle cx="150.14" cy="229.8" r="2.05"/><circle cx="158.21" cy="224.2" r="2.05"/><circle cx="166.27" cy="216" r="2.05"/><circle cx="174.33" cy="216.9" r="2.05"/><circle cx="182.4" cy="220.6" r="2.05"/><circle cx="190.46" cy="225.2" r="2.05"/><circle cx="198.52" cy="211" r="2.05"/><circle cx="206.59" cy="201.8" r="2.05"/><circle cx="214.65" cy="199.1" r="2.05"/><circle cx="222.71" cy="211" r="2.05"/><circle cx="230.77" cy="222.9" r="2.05"/><circle cx="238.84" cy="222.5" r="2.05"/><circle cx="246.9" cy="219.8" r="2.05"/></g>
<text x="327.3" y="143.1" font-size="9.9" fill="#1a1a1a" textLength="9.8" lengthAdjust="spacingAndGlyphs">S8</text>
<text x="337.4" y="143.1" font-size="7.2" fill="#1a1a1a">：</text>
<text x="347.3" y="143.1" font-size="9.9" fill="#1a1a1a" textLength="85.4" lengthAdjust="spacingAndGlyphs">measured data [deg]</text>
<text x="327.3" y="153.5" font-size="9.9" fill="#1a1a1a" textLength="9.8" lengthAdjust="spacingAndGlyphs">S8</text>
<text x="337.4" y="153.5" font-size="7.2" fill="#1a1a1a">：</text>
<text x="347.3" y="153.5" font-size="9.9" fill="#1a1a1a" textLength="85" lengthAdjust="spacingAndGlyphs">calculated data [deg]</text>
<circle cx="448" cy="140.35" r="1.95" fill="#000"/>
<circle cx="463.4" cy="140.35" r="1.95" fill="#000"/>
<path d="M439.9 150.2H471.9" stroke="#000" stroke-width="1.5" fill="none"/>
<path d="M334.56 231.3v2.8M342.41 230.6v4.8M350.27 231.3v2.8M358.12 231.3v2.8M365.98 231.3v2.8M373.83 231.3v2.8M381.69 231.3v2.8M389.54 231.3v2.8M397.4 231.3v2.8M405.26 231.3v2.8M413.11 231.3v2.8M420.97 231.3v2.8M428.82 231.3v2.8M436.68 230.6v4.8M444.53 231.3v2.8M452.39 231.3v2.8M460.24 231.3v2.8M468.1 231.3v2.8M475.96 231.3v2.8M483.81 231.3v2.8M491.67 231.3v2.8M499.52 231.3v2.8M507.38 231.3v2.8M515.23 231.3v2.8M523.09 231.3v2.8M530.94 230.6v4.8" stroke="#777" stroke-width="1" fill="none"/>
<path d="M321.7 230.3h5M321.7 215.35h5M321.7 200.4h5M321.7 185.45h5M321.7 170.5h5" stroke="#777" stroke-width="1" fill="none"/>
<text x="313.48" y="234.8" font-size="10.2" fill="#1a1a1a" textLength="5.42" lengthAdjust="spacingAndGlyphs">0</text>
<text x="302.65" y="204.9" font-size="10.2" fill="#1a1a1a" textLength="16.25" lengthAdjust="spacingAndGlyphs">180</text>
<text x="302.65" y="175" font-size="10.2" fill="#1a1a1a" textLength="16.25" lengthAdjust="spacingAndGlyphs">360</text>
<rect x="326.7" y="170.5" width="212.1" height="59.8" fill="none" stroke="#151515" stroke-width="1.2"/>
<text x="330.52" y="247.1" font-size="10.2" fill="#1a1a1a" textLength="24.38" lengthAdjust="spacingAndGlyphs">12:00</text>
<text x="316.51" y="258.6" font-size="10.2" fill="#1a1a1a" textLength="52.0" lengthAdjust="spacingAndGlyphs">2011-05-04</text>
<text x="424.79" y="247.1" font-size="10.2" fill="#1a1a1a" textLength="24.38" lengthAdjust="spacingAndGlyphs">00:00</text>
<text x="424.52" y="258.6" font-size="10.2" fill="#1a1a1a" textLength="24.91" lengthAdjust="spacingAndGlyphs">05-05</text>
<text x="519.06" y="247.1" font-size="10.2" fill="#1a1a1a" textLength="24.38" lengthAdjust="spacingAndGlyphs">12:00</text>
<path d="M326.7 174 L327.1 174 L327.5 174 L327.91 174 L328.31 174 L328.71 174 L329.11 174 L329.51 174 L329.91 174 L330.32 174 L330.72 174 L331.12 174 L331.52 174 L331.92 174 L332.32 174 L332.73 174 L333.13 174 L333.53 174 L333.93 174.2 L334.33 174.67 L334.73 175.32 L335.14 176.08 L335.54 177.2 L335.94 178.74 L336.34 180.65 L336.74 183.08 L337.14 186.6 L337.55 190.87 L337.95 196.41 L338.35 202.16 L338.75 203.26 L339.15 203.6 L339.55 203.63 L339.96 203.65 L340.36 203.67 L340.76 203.68 L341.16 203.69 L341.56 203.69 L341.96 203.7 L342.37 203.71 L342.77 203.71 L343.17 203.72 L343.57 203.72 L343.97 203.73 L344.38 203.74 L344.78 203.74 L345.18 203.75 L345.58 203.75 L345.98 203.76 L346.38 203.76 L346.79 203.77 L347.19 203.77 L347.59 203.77 L347.99 203.78 L348.39 203.78 L348.79 203.79 L349.2 203.79 L349.6 203.79 L350 203.8 L350.4 203.8 L350.8 203.8 L351.2 203.8 L351.61 203.81 L352.01 203.81 L352.41 203.81 L352.81 203.82 L353.21 203.82 L353.61 203.82 L354.02 203.82 L354.42 203.82 L354.82 203.83 L355.22 203.83 L355.62 203.83 L356.02 203.83 L356.43 203.83 L356.83 203.83 L357.23 203.84 L357.63 203.84 L358.03 203.84 L358.43 203.84 L358.84 203.84 L359.24 203.84 L359.64 203.84 L360.04 203.84 L360.44 203.85 L360.84 203.85 L361.25 203.85 L361.65 203.85 L362.05 203.85 L362.45 203.85 L362.85 203.85 L363.26 203.85 L363.66 203.85 L364.06 203.86 L364.46 203.86 L364.86 203.86 L365.26 203.86 L365.67 203.86 L366.07 203.86 L366.47 203.86 L366.87 203.86 L367.27 203.86 L367.67 203.87 L368.08 203.87 L368.48 203.87 L368.88 203.87 L369.28 203.87 L369.68 203.87 L370.08 203.87 L370.49 203.88 L370.89 203.88 L371.29 203.88 L371.69 203.88 L372.09 203.88 L372.49 203.89 L372.9 203.89 L373.3 203.89 L373.7 203.89 L374.1 203.89 L374.5 203.9 L374.9 203.9 L375.31 203.9 L375.71 203.91 L376.11 203.91 L376.51 203.91 L376.91 203.92 L377.31 203.92 L377.72 203.92 L378.12 203.93 L378.52 203.93 L378.92 203.93 L379.32 203.94 L379.72 203.94 L380.13 203.95 L380.53 203.95 L380.93 203.96 L381.33 203.96 L381.73 203.97 L382.14 203.97 L382.54 203.98 L382.94 203.99 L383.34 203.99 L383.74 204 L384.14 204 L384.55 204.01 L384.95 204.02 L385.35 204.03 L385.75 204.03 L386.15 204.04 L386.55 204.05 L386.96 204.06 L387.36 204.07 L387.76 204.07 L388.16 204.08 L388.56 204.09 L388.96 204.1 L389.37 204.19 L389.77 204.39 L390.17 204.68 L390.57 205.05 L390.97 205.49 L391.37 205.97 L391.78 206.5 L392.18 207.07 L392.58 207.86 L392.98 208.87 L393.38 210.07 L393.78 211.41 L394.19 212.86 L394.59 214.38 L394.99 215.98 L395.39 217.92 L395.79 220.11 L396.19 222.38 L396.6 224.57 L397 226.55 L397.4 228.4 M398.3 173.4 L398.7 173.08 L399.1 172.77 L399.5 172.56 L399.91 172.5 L400.31 172.52 L400.71 172.55 L401.11 172.6 L401.51 172.66 L401.91 172.74 L402.31 172.82 L402.72 172.9 L403.12 172.99 L403.52 173.07 L403.92 173.16 L404.32 173.23 L404.72 173.3 L405.12 173.35 L405.53 173.39 L405.93 173.42 L406.33 173.45 L406.73 173.48 L407.13 173.5 L407.53 173.53 L407.93 173.55 L408.34 173.57 L408.74 173.59 L409.14 173.61 L409.54 173.63 L409.94 173.65 L410.34 173.67 L410.74 173.69 L411.15 173.71 L411.55 173.72 L411.95 173.74 L412.35 173.76 L412.75 173.77 L413.15 173.79 L413.55 173.8 L413.96 173.81 L414.36 173.83 L414.76 173.84 L415.16 173.85 L415.56 173.87 L415.96 173.88 L416.36 173.89 L416.77 173.9 L417.17 173.92 L417.57 173.93 L417.97 173.94 L418.37 173.95 L418.77 173.96 L419.18 173.97 L419.58 173.99 L419.98 174 L420.38 174.01 L420.78 174.02 L421.18 174.04 L421.58 174.05 L421.99 174.06 L422.39 174.08 L422.79 174.09 L423.19 174.1 L423.59 174.12 L423.99 174.13 L424.39 174.14 L424.8 174.16 L425.2 174.17 L425.6 174.18 L426 174.19 L426.4 174.21 L426.8 174.22 L427.2 174.23 L427.61 174.24 L428.01 174.26 L428.41 174.27 L428.81 174.28 L429.21 174.29 L429.61 174.3 L430.01 174.31 L430.42 174.32 L430.82 174.33 L431.22 174.34 L431.62 174.35 L432.02 174.35 L432.42 174.36 L432.82 174.37 L433.23 174.37 L433.63 174.38 L434.03 174.38 L434.43 174.39 L434.83 174.39 L435.23 174.4 L435.63 174.4 L436.04 174.4 L436.44 174.4 L436.84 174.4 L437.24 174.4 L437.64 174.4 L438.04 174.4 L438.44 174.4 L438.85 174.4 L439.25 174.4 L439.65 174.4 L440.05 174.4 L440.45 174.4 L440.85 174.4 L441.25 174.4 L441.66 174.49 L442.06 174.94 L442.46 175.7 L442.86 176.7 L443.26 177.86 L443.66 179.19 L444.06 181.23 L444.47 183.91 L444.87 186.95 L445.27 190.76 L445.67 195.95 L446.07 199.94 L446.47 201.15 L446.87 201.93 L447.28 202.53 L447.68 202.95 L448.08 203.22 L448.48 203.35 L448.88 203.44 L449.28 203.52 L449.68 203.59 L450.09 203.64 L450.49 203.67 L450.89 203.7 L451.29 203.71 L451.69 203.72 L452.09 203.74 L452.49 203.75 L452.9 203.76 L453.3 203.77 L453.7 203.78 L454.1 203.79 L454.5 203.8 L454.9 203.81 L455.3 203.81 L455.71 203.82 L456.11 203.83 L456.51 203.83 L456.91 203.84 L457.31 203.84 L457.71 203.85 L458.11 203.85 L458.52 203.86 L458.92 203.86 L459.32 203.86 L459.72 203.86 L460.12 203.87 L460.52 203.87 L460.93 203.87 L461.33 203.87 L461.73 203.88 L462.13 203.88 L462.53 203.88 L462.93 203.88 L463.33 203.88 L463.74 203.88 L464.14 203.89 L464.54 203.89 L464.94 203.89 L465.34 203.89 L465.74 203.89 L466.14 203.9 L466.55 203.9 L466.95 203.9 L467.35 203.9 L467.75 203.91 L468.15 203.91 L468.55 203.92 L468.95 203.92 L469.36 203.93 L469.76 203.93 L470.16 203.94 L470.56 203.95 L470.96 203.95 L471.36 203.96 L471.76 203.97 L472.17 203.98 L472.57 203.99 L472.97 204 L473.37 204.01 L473.77 204.02 L474.17 204.03 L474.57 204.05 L474.98 204.06 L475.38 204.08 L475.78 204.09 L476.18 204.16 L476.58 204.41 L476.98 204.83 L477.38 205.4 L477.79 206.11 L478.19 206.94 L478.59 207.87 L478.99 208.87 L479.39 210.36 L479.79 212.56 L480.19 215.2 L480.6 217.99 L481 221.39 L481.4 224.79 L481.8 227.9 M483.2 172.9 L483.6 172.93 L484.01 172.95 L484.41 172.98 L484.81 173 L485.21 173.03 L485.62 173.06 L486.02 173.08 L486.42 173.11 L486.83 173.13 L487.23 173.16 L487.63 173.18 L488.03 173.21 L488.44 173.23 L488.84 173.26 L489.24 173.28 L489.65 173.3 L490.05 173.33 L490.45 173.35 L490.86 173.37 L491.26 173.4 L491.66 173.42 L492.06 173.44 L492.47 173.46 L492.87 173.48 L493.27 173.5 L493.68 173.52 L494.08 173.55 L494.48 173.57 L494.88 173.59 L495.29 173.6 L495.69 173.62 L496.09 173.64 L496.5 173.66 L496.9 173.68 L497.3 173.7 L497.7 173.71 L498.11 173.73 L498.51 173.74 L498.91 173.76 L499.32 173.78 L499.72 173.79 L500.12 173.8 L500.52 173.82 L500.93 173.83 L501.33 173.84 L501.73 173.85 L502.14 173.86 L502.54 173.87 L502.94 173.88 L503.34 173.89 L503.75 173.9 L504.15 173.91 L504.55 173.91 L504.96 173.92 L505.36 173.93 L505.76 173.93 L506.17 173.94 L506.57 173.94 L506.97 173.95 L507.37 173.95 L507.78 173.96 L508.18 173.96 L508.58 173.97 L508.99 173.97 L509.39 173.98 L509.79 173.98 L510.19 173.99 L510.6 173.99 L511 173.99 L511.4 174 L511.81 174 L512.21 174.01 L512.61 174.01 L513.01 174.02 L513.42 174.02 L513.82 174.03 L514.22 174.04 L514.63 174.04 L515.03 174.05 L515.43 174.06 L515.83 174.07 L516.24 174.08 L516.64 174.09 L517.04 174.1 L517.45 174.11 L517.85 174.12 L518.25 174.13 L518.66 174.14 L519.06 174.16 L519.46 174.17 L519.86 174.19 L520.27 174.2 L520.67 174.22 L521.07 174.24 L521.48 174.26 L521.88 174.28 L522.28 174.3 L522.68 174.32 L523.09 174.34 L523.49 174.37 L523.89 174.39 L524.3 174.46 L524.7 174.68 L525.1 175.05 L525.5 175.57 L525.91 176.24 L526.31 177.06 L526.71 178.45 L527.12 182.09 L527.52 186.88 L527.92 191.53 L528.32 197.24 L528.73 201.34 L529.13 202.27 L529.53 202.91 L529.94 203.36 L530.34 203.62 L530.74 203.7 L531.14 203.7 L531.55 203.7 L531.95 203.7 L532.35 203.7 L532.76 203.7 L533.16 203.7 L533.56 203.7 L533.97 203.7 L534.37 203.7 L534.77 203.7 L535.17 203.7 L535.58 203.7 L535.98 203.7 L536.38 203.7 L536.79 203.7 L537.19 203.7 L537.59 203.7 L537.99 203.7 L538.4 203.7 L538.8 203.7" fill="none" stroke="#000" stroke-width="1.7" stroke-linejoin="round" stroke-linecap="butt" clip-path="url(#c11)"/>
<g fill="#000"><circle cx="326.7" cy="174" r="2.05"/><circle cx="334.56" cy="223.1" r="2.05"/><circle cx="342.41" cy="203.3" r="2.05"/><circle cx="350.27" cy="203.1" r="2.05"/><circle cx="358.12" cy="203.7" r="2.05"/><circle cx="365.98" cy="204.3" r="2.05"/><circle cx="373.83" cy="203.3" r="2.05"/><circle cx="381.69" cy="203.9" r="2.05"/><circle cx="389.54" cy="205.1" r="2.05"/><circle cx="397.4" cy="174.8" r="2.05"/><circle cx="405.26" cy="174" r="2.05"/><circle cx="413.11" cy="174.8" r="2.05"/><circle cx="420.97" cy="175" r="2.05"/><circle cx="428.82" cy="174.8" r="2.05"/><circle cx="436.68" cy="175.7" r="2.05"/><circle cx="444.53" cy="190.1" r="2.05"/><circle cx="452.39" cy="202.2" r="2.05"/><circle cx="460.24" cy="205.1" r="2.05"/><circle cx="468.1" cy="203.7" r="2.05"/><circle cx="475.96" cy="204.7" r="2.05"/><circle cx="483.81" cy="173.4" r="2.05"/><circle cx="491.67" cy="174.4" r="2.05"/><circle cx="499.52" cy="176.5" r="2.05"/><circle cx="507.38" cy="174.4" r="2.05"/><circle cx="515.23" cy="174.8" r="2.05"/><circle cx="523.09" cy="174" r="2.05"/><circle cx="530.94" cy="203.3" r="2.05"/><circle cx="538.8" cy="203.3" r="2.05"/></g>
<text x="30.1" y="272.7" font-size="9.9" fill="#1a1a1a" textLength="9.8" lengthAdjust="spacingAndGlyphs">S9</text>
<text x="40.2" y="272.7" font-size="7.2" fill="#1a1a1a">：</text>
<text x="49.7" y="272.7" font-size="9.9" fill="#1a1a1a" textLength="84.9" lengthAdjust="spacingAndGlyphs">measured data [m/s]</text>
<text x="30.1" y="283.1" font-size="9.9" fill="#1a1a1a" textLength="9.8" lengthAdjust="spacingAndGlyphs">S9</text>
<text x="40.2" y="283.1" font-size="7.2" fill="#1a1a1a">：</text>
<text x="49.7" y="283.1" font-size="9.9" fill="#1a1a1a" textLength="84.5" lengthAdjust="spacingAndGlyphs">calculated data [m/s]</text>
<circle cx="150.3" cy="269.95" r="1.95" fill="#000"/>
<circle cx="165.7" cy="269.95" r="1.95" fill="#000"/>
<path d="M142.1 279.8H174" stroke="#000" stroke-width="1.5" fill="none"/>
<path d="M37.26 360.9v2.8M45.33 360.2v4.8M53.39 360.9v2.8M61.45 360.9v2.8M69.51 360.9v2.8M77.58 360.9v2.8M85.64 360.9v2.8M93.7 360.9v2.8M101.77 360.9v2.8M109.83 360.9v2.8M117.89 360.9v2.8M125.96 360.9v2.8M134.02 360.9v2.8M142.08 360.2v4.8M150.14 360.9v2.8M158.21 360.9v2.8M166.27 360.9v2.8M174.33 360.9v2.8M182.4 360.9v2.8M190.46 360.9v2.8M198.52 360.9v2.8M206.59 360.9v2.8M214.65 360.9v2.8M222.71 360.9v2.8M230.77 360.9v2.8M238.84 360.2v4.8" stroke="#777" stroke-width="1" fill="none"/>
<path d="M24.2 359.9h5M24.2 339.97h5M24.2 320.03h5M24.2 300.1h5" stroke="#777" stroke-width="1" fill="none"/>
<text x="8.26" y="364.4" font-size="10.2" fill="#1a1a1a" textLength="13.54" lengthAdjust="spacingAndGlyphs">0.0</text>
<text x="8.26" y="344.47" font-size="10.2" fill="#1a1a1a" textLength="13.54" lengthAdjust="spacingAndGlyphs">0.5</text>
<text x="8.26" y="324.53" font-size="10.2" fill="#1a1a1a" textLength="13.54" lengthAdjust="spacingAndGlyphs">1.0</text>
<text x="8.26" y="304.6" font-size="10.2" fill="#1a1a1a" textLength="13.54" lengthAdjust="spacingAndGlyphs">1.5</text>
<rect x="29.2" y="300.1" width="217.7" height="59.8" fill="none" stroke="#151515" stroke-width="1.2"/>
<text x="33.44" y="376.7" font-size="10.2" fill="#1a1a1a" textLength="24.38" lengthAdjust="spacingAndGlyphs">12:00</text>
<text x="19.43" y="388.2" font-size="10.2" fill="#1a1a1a" textLength="52.0" lengthAdjust="spacingAndGlyphs">2011-05-04</text>
<text x="130.19" y="376.7" font-size="10.2" fill="#1a1a1a" textLength="24.38" lengthAdjust="spacingAndGlyphs">00:00</text>
<text x="129.92" y="388.2" font-size="10.2" fill="#1a1a1a" textLength="24.91" lengthAdjust="spacingAndGlyphs">05-05</text>
<text x="226.95" y="376.7" font-size="10.2" fill="#1a1a1a" textLength="24.38" lengthAdjust="spacingAndGlyphs">12:00</text>
<path d="M29.2 359.2 L29.6 359 L30 358.81 L30.41 358.62 L30.81 358.43 L31.21 358.24 L31.61 358.05 L32.02 357.87 L32.42 357.69 L32.82 357.51 L33.22 357.33 L33.63 357.16 L34.03 356.99 L34.43 356.82 L34.83 356.65 L35.24 356.49 L35.64 356.32 L36.04 356.16 L36.44 356 L36.85 355.85 L37.25 355.69 L37.65 355.54 L38.05 355.4 L38.46 355.26 L38.86 355.13 L39.26 355.01 L39.66 354.89 L40.07 354.77 L40.47 354.65 L40.87 354.52 L41.27 354.4 L41.68 354.28 L42.08 354.14 L42.48 354.01 L42.88 353.86 L43.29 353.71 L43.69 353.55 L44.09 353.37 L44.49 353.18 L44.9 352.97 L45.3 352.74 L45.7 352.51 L46.1 352.26 L46.51 352 L46.91 351.74 L47.31 351.47 L47.71 351.19 L48.12 350.91 L48.52 350.64 L48.92 350.36 L49.32 350.08 L49.73 349.81 L50.13 349.54 L50.53 349.28 L50.93 349.02 L51.34 348.78 L51.74 348.55 L52.14 348.33 L52.54 348.12 L52.95 347.91 L53.35 347.7 L53.75 347.49 L54.15 347.29 L54.56 347.08 L54.96 346.88 L55.36 346.68 L55.76 346.48 L56.17 346.29 L56.57 346.1 L56.97 345.91 L57.37 345.74 L57.78 345.56 L58.18 345.4 L58.58 345.24 L58.98 345.09 L59.39 344.95 L59.79 344.81 L60.19 344.69 L60.59 344.57 L61 344.46 L61.4 344.35 L61.8 344.23 L62.2 344.12 L62.61 344.01 L63.01 343.9 L63.41 343.79 L63.81 343.69 L64.22 343.59 L64.62 343.5 L65.02 343.42 L65.42 343.34 L65.83 343.27 L66.23 343.21 L66.63 343.17 L67.03 343.13 L67.44 343.11 L67.84 343.1 L68.24 343.1 L68.64 343.11 L69.05 343.13 L69.45 343.16 L69.85 343.2 L70.25 343.24 L70.66 343.29 L71.06 343.34 L71.46 343.41 L71.86 343.47 L72.27 343.55 L72.67 343.62 L73.07 343.71 L73.47 343.8 L73.88 343.89 L74.28 343.98 L74.68 344.08 L75.08 344.19 L75.49 344.29 L75.89 344.4 L76.29 344.51 L76.69 344.63 L77.1 344.74 L77.5 344.86 L77.9 345 L78.3 345.16 L78.71 345.34 L79.11 345.54 L79.51 345.76 L79.91 345.99 L80.32 346.24 L80.72 346.51 L81.12 346.79 L81.52 347.08 L81.93 347.38 L82.33 347.69 L82.73 348.01 L83.13 348.33 L83.54 348.66 L83.94 349 L84.34 349.33 L84.74 349.67 L85.15 350.02 L85.55 350.36 L85.95 350.71 L86.35 351.08 L86.76 351.48 L87.16 351.89 L87.56 352.33 L87.96 352.77 L88.37 353.23 L88.77 353.7 L89.17 354.17 L89.57 354.64 L89.98 355.12 L90.38 355.59 L90.78 356.05 L91.18 356.51 L91.59 356.96 L91.99 357.39 L92.39 357.82 L92.79 358.24 L93.2 358.66 L93.6 359.08 L94 359.5 L94 359.5 L94.4 358.68 L94.8 357.89 L95.2 357.12 L95.6 356.38 L96 355.67 L96.41 355 L96.81 354.37 L97.21 353.77 L97.61 353.22 L98.01 352.72 L98.41 352.26 L98.81 351.82 L99.21 351.38 L99.61 350.96 L100.01 350.55 L100.41 350.18 L100.81 349.84 L101.22 349.53 L101.62 349.27 L102.02 349.06 L102.42 348.89 L102.82 348.76 L103.22 348.63 L103.62 348.51 L104.02 348.39 L104.42 348.27 L104.82 348.16 L105.22 348.05 L105.62 347.96 L106.03 347.86 L106.43 347.77 L106.83 347.69 L107.23 347.62 L107.63 347.55 L108.03 347.49 L108.43 347.44 L108.83 347.4 L109.23 347.36 L109.63 347.33 L110.03 347.31 L110.43 347.3 L110.84 347.3 L111.24 347.3 L111.64 347.31 L112.04 347.33 L112.44 347.35 L112.84 347.37 L113.24 347.4 L113.64 347.43 L114.04 347.47 L114.44 347.51 L114.84 347.55 L115.24 347.6 L115.65 347.65 L116.05 347.71 L116.45 347.77 L116.85 347.83 L117.25 347.9 L117.65 347.97 L118.05 348.04 L118.45 348.12 L118.85 348.2 L119.25 348.28 L119.65 348.36 L120.06 348.45 L120.46 348.54 L120.86 348.63 L121.26 348.72 L121.66 348.82 L122.06 348.92 L122.46 349.02 L122.86 349.12 L123.26 349.22 L123.66 349.33 L124.06 349.44 L124.46 349.54 L124.87 349.65 L125.27 349.76 L125.67 349.88 L126.07 350.01 L126.47 350.17 L126.87 350.34 L127.27 350.53 L127.67 350.74 L128.07 350.96 L128.47 351.19 L128.87 351.43 L129.27 351.68 L129.68 351.94 L130.08 352.2 L130.48 352.47 L130.88 352.74 L131.28 353.01 L131.68 353.29 L132.08 353.56 L132.48 353.82 L132.88 354.09 L133.28 354.34 L133.68 354.59 L134.08 354.84 L134.49 355.1 L134.89 355.38 L135.29 355.66 L135.69 355.94 L136.09 356.23 L136.49 356.52 L136.89 356.8 L137.29 357.08 L137.69 357.35 L138.09 357.61 L138.49 357.85 L138.89 358.08 L139.3 358.29 L139.7 358.48 L140.1 358.64 L140.5 358.77 L140.9 358.89 L141.3 359 L141.3 359 L141.7 358.86 L142.11 358.72 L142.51 358.59 L142.91 358.45 L143.31 358.32 L143.72 358.19 L144.12 358.07 L144.52 357.94 L144.93 357.82 L145.33 357.71 L145.73 357.59 L146.14 357.48 L146.54 357.38 L146.94 357.27 L147.34 357.17 L147.75 357.08 L148.15 356.99 L148.55 356.9 L148.96 356.82 L149.36 356.74 L149.76 356.67 L150.17 356.6 L150.57 356.54 L150.97 356.48 L151.37 356.42 L151.78 356.37 L152.18 356.31 L152.58 356.26 L152.99 356.21 L153.39 356.16 L153.79 356.12 L154.2 356.07 L154.6 356.03 L155 355.98 L155.4 355.93 L155.81 355.89 L156.21 355.84 L156.61 355.79 L157.02 355.74 L157.42 355.68 L157.82 355.63 L158.22 355.57 L158.63 355.5 L159.03 355.43 L159.43 355.36 L159.84 355.28 L160.24 355.2 L160.64 355.12 L161.05 355.04 L161.45 354.96 L161.85 354.88 L162.25 354.8 L162.66 354.72 L163.06 354.64 L163.46 354.57 L163.87 354.5 L164.27 354.44 L164.67 354.38 L165.08 354.32 L165.48 354.28 L165.88 354.24 L166.28 354.21 L166.69 354.18 L167.09 354.16 L167.49 354.14 L167.9 354.11 L168.3 354.09 L168.7 354.07 L169.1 354.06 L169.51 354.04 L169.91 354.03 L170.31 354.02 L170.72 354.01 L171.12 354 L171.52 354 L171.93 354.01 L172.33 354.06 L172.73 354.15 L173.13 354.26 L173.54 354.4 L173.94 354.57 L174.34 354.75 L174.75 354.94 L175.15 355.15 L175.55 355.36 L175.96 355.57 L176.36 355.78 L176.76 355.98 L177.16 356.18 L177.57 356.4 L177.97 356.63 L178.37 356.87 L178.78 357.12 L179.18 357.39 L179.58 357.66 L179.99 357.95 L180.39 358.24 L180.79 358.54 L181.19 358.86 L181.6 359.17 L182 359.5 L182 359.5 L182.4 358.71 L182.8 357.93 L183.2 357.18 L183.6 356.45 L184 355.74 L184.41 355.07 L184.81 354.43 L185.21 353.82 L185.61 353.26 L186.01 352.73 L186.41 352.25 L186.81 351.78 L187.21 351.32 L187.61 350.87 L188.01 350.44 L188.41 350.02 L188.82 349.63 L189.22 349.25 L189.62 348.91 L190.02 348.58 L190.42 348.29 L190.82 348.02 L191.22 347.79 L191.62 347.59 L192.02 347.4 L192.42 347.22 L192.83 347.04 L193.23 346.88 L193.63 346.72 L194.03 346.57 L194.43 346.43 L194.83 346.3 L195.23 346.17 L195.63 346.06 L196.03 345.95 L196.43 345.85 L196.83 345.76 L197.24 345.68 L197.64 345.61 L198.04 345.54 L198.44 345.48 L198.84 345.41 L199.24 345.35 L199.64 345.29 L200.04 345.23 L200.44 345.17 L200.84 345.11 L201.24 345.06 L201.65 345.01 L202.05 344.97 L202.45 344.93 L202.85 344.89 L203.25 344.86 L203.65 344.84 L204.05 344.82 L204.45 344.81 L204.85 344.8 L205.25 344.81 L205.66 344.85 L206.06 344.91 L206.46 345.01 L206.86 345.14 L207.26 345.29 L207.66 345.46 L208.06 345.65 L208.46 345.86 L208.86 346.08 L209.26 346.31 L209.66 346.56 L210.07 346.81 L210.47 347.06 L210.87 347.32 L211.27 347.58 L211.67 347.84 L212.07 348.1 L212.47 348.34 L212.87 348.6 L213.27 348.89 L213.67 349.19 L214.07 349.51 L214.48 349.84 L214.88 350.18 L215.28 350.53 L215.68 350.9 L216.08 351.26 L216.48 351.63 L216.88 351.99 L217.28 352.36 L217.68 352.71 L218.08 353.06 L218.49 353.4 L218.89 353.74 L219.29 354.06 L219.69 354.39 L220.09 354.72 L220.49 355.05 L220.89 355.38 L221.29 355.7 L221.69 356.03 L222.09 356.35 L222.49 356.67 L222.9 357 L223.3 357.32 L223.7 357.64 L224.1 357.96 L224.5 358.28 L224.9 358.6 L224.9 358.6 L225.3 358.42 L225.7 358.24 L226.1 358.06 L226.5 357.88 L226.9 357.7 L227.3 357.53 L227.7 357.36 L228.1 357.19 L228.5 357.03 L228.9 356.87 L229.3 356.71 L229.7 356.55 L230.1 356.4 L230.5 356.25 L230.9 356.11 L231.3 355.97 L231.7 355.83 L232.1 355.7 L232.5 355.58 L232.9 355.46 L233.3 355.34 L233.7 355.23 L234.1 355.12 L234.5 355.01 L234.9 354.9 L235.3 354.79 L235.7 354.68 L236.1 354.57 L236.5 354.46 L236.9 354.35 L237.3 354.23 L237.7 354.11 L238.1 353.99 L238.5 353.86 L238.9 353.72 L239.3 353.57 L239.7 353.42 L240.1 353.27 L240.5 353.1 L240.9 352.93 L241.3 352.76 L241.7 352.58 L242.1 352.39 L242.5 352.2 L242.9 352 L243.3 351.8 L243.7 351.59 L244.1 351.38 L244.5 351.17 L244.9 350.95 L245.3 350.73 L245.7 350.5 L246.1 350.27 L246.5 350.04 L246.9 349.8" fill="none" stroke="#000" stroke-width="1.7" stroke-linejoin="round" stroke-linecap="butt" clip-path="url(#c20)"/>
<g fill="#000"><circle cx="29.2" cy="359.2" r="2.05"/><circle cx="37.26" cy="354" r="2.05"/><circle cx="45.33" cy="350.8" r="2.05"/><circle cx="53.39" cy="348.5" r="2.05"/><circle cx="61.45" cy="345.6" r="2.05"/><circle cx="69.51" cy="344.6" r="2.05"/><circle cx="77.58" cy="345.6" r="2.05"/><circle cx="85.64" cy="351.5" r="2.05"/><circle cx="93.7" cy="357.3" r="2.05"/><circle cx="101.77" cy="349.8" r="2.05"/><circle cx="109.83" cy="348.1" r="2.05"/><circle cx="117.89" cy="349.8" r="2.05"/><circle cx="125.96" cy="350.6" r="2.05"/><circle cx="134.02" cy="352.9" r="2.05"/><circle cx="142.08" cy="358.1" r="2.05"/><circle cx="150.14" cy="355" r="2.05"/><circle cx="158.21" cy="351.9" r="2.05"/><circle cx="166.27" cy="351.9" r="2.05"/><circle cx="174.33" cy="355.6" r="2.05"/><circle cx="182.4" cy="358.3" r="2.05"/><circle cx="190.46" cy="350.4" r="2.05"/><circle cx="198.52" cy="346.6" r="2.05"/><circle cx="206.59" cy="343.5" r="2.05"/><circle cx="214.65" cy="350.4" r="2.05"/><circle cx="222.71" cy="356.7" r="2.05"/><circle cx="230.77" cy="356" r="2.05"/><circle cx="238.84" cy="352.5" r="2.05"/><circle cx="246.9" cy="347.7" r="2.05"/></g>
<text x="327.3" y="272.7" font-size="9.9" fill="#1a1a1a" textLength="9.8" lengthAdjust="spacingAndGlyphs">S9</text>
<text x="337.4" y="272.7" font-size="7.2" fill="#1a1a1a">：</text>
<text x="347.3" y="272.7" font-size="9.9" fill="#1a1a1a" textLength="85.4" lengthAdjust="spacingAndGlyphs">measured data [deg]</text>
<text x="327.3" y="283.1" font-size="9.9" fill="#1a1a1a" textLength="9.8" lengthAdjust="spacingAndGlyphs">S9</text>
<text x="337.4" y="283.1" font-size="7.2" fill="#1a1a1a">：</text>
<text x="347.3" y="283.1" font-size="9.9" fill="#1a1a1a" textLength="85" lengthAdjust="spacingAndGlyphs">calculated data [deg]</text>
<circle cx="448" cy="269.95" r="1.95" fill="#000"/>
<circle cx="463.4" cy="269.95" r="1.95" fill="#000"/>
<path d="M439.9 279.8H471.9" stroke="#000" stroke-width="1.5" fill="none"/>
<path d="M334.56 360.9v2.8M342.41 360.2v4.8M350.27 360.9v2.8M358.12 360.9v2.8M365.98 360.9v2.8M373.83 360.9v2.8M381.69 360.9v2.8M389.54 360.9v2.8M397.4 360.9v2.8M405.26 360.9v2.8M413.11 360.9v2.8M420.97 360.9v2.8M428.82 360.9v2.8M436.68 360.2v4.8M444.53 360.9v2.8M452.39 360.9v2.8M460.24 360.9v2.8M468.1 360.9v2.8M475.96 360.9v2.8M483.81 360.9v2.8M491.67 360.9v2.8M499.52 360.9v2.8M507.38 360.9v2.8M515.23 360.9v2.8M523.09 360.9v2.8M530.94 360.2v4.8" stroke="#777" stroke-width="1" fill="none"/>
<path d="M321.7 359.9h5M321.7 344.95h5M321.7 330h5M321.7 315.05h5M321.7 300.1h5" stroke="#777" stroke-width="1" fill="none"/>
<text x="313.48" y="364.4" font-size="10.2" fill="#1a1a1a" textLength="5.42" lengthAdjust="spacingAndGlyphs">0</text>
<text x="302.65" y="334.5" font-size="10.2" fill="#1a1a1a" textLength="16.25" lengthAdjust="spacingAndGlyphs">180</text>
<text x="302.65" y="304.6" font-size="10.2" fill="#1a1a1a" textLength="16.25" lengthAdjust="spacingAndGlyphs">360</text>
<rect x="326.7" y="300.1" width="212.1" height="59.8" fill="none" stroke="#151515" stroke-width="1.2"/>
<text x="330.52" y="376.7" font-size="10.2" fill="#1a1a1a" textLength="24.38" lengthAdjust="spacingAndGlyphs">12:00</text>
<text x="316.51" y="388.2" font-size="10.2" fill="#1a1a1a" textLength="52.0" lengthAdjust="spacingAndGlyphs">2011-05-04</text>
<text x="424.79" y="376.7" font-size="10.2" fill="#1a1a1a" textLength="24.38" lengthAdjust="spacingAndGlyphs">00:00</text>
<text x="424.52" y="388.2" font-size="10.2" fill="#1a1a1a" textLength="24.91" lengthAdjust="spacingAndGlyphs">05-05</text>
<text x="519.06" y="376.7" font-size="10.2" fill="#1a1a1a" textLength="24.38" lengthAdjust="spacingAndGlyphs">12:00</text>
<path d="M326.7 340 L327.1 333.49 L327.5 330.94 L327.9 329.33 L328.3 328.21 L328.7 327.4 L329.1 326.72 L329.5 326.12 L329.9 325.59 L330.3 325.15 L330.7 324.78 L331.1 324.48 L331.5 324.25 L331.9 324.04 L332.3 323.85 L332.7 323.67 L333.1 323.51 L333.5 323.36 L333.9 323.23 L334.3 323.1 L334.7 322.99 L335.1 322.89 L335.5 322.8 L335.9 322.72 L336.3 322.65 L336.7 322.58 L337.1 322.53 L337.51 322.47 L337.91 322.42 L338.31 322.36 L338.71 322.31 L339.11 322.27 L339.51 322.23 L339.91 322.19 L340.31 322.15 L340.71 322.11 L341.11 322.09 L341.51 322.06 L341.91 322.04 L342.31 322.02 L342.71 322.01 L343.11 322 L343.51 321.99 L343.91 321.98 L344.31 321.97 L344.71 321.96 L345.11 321.95 L345.51 321.94 L345.91 321.94 L346.31 321.93 L346.71 321.92 L347.11 321.91 L347.51 321.91 L347.91 321.9 L348.31 321.89 L348.71 321.89 L349.11 321.88 L349.51 321.87 L349.91 321.87 L350.31 321.86 L350.71 321.86 L351.11 321.85 L351.51 321.85 L351.91 321.84 L352.31 321.84 L352.71 321.84 L353.11 321.83 L353.51 321.83 L353.91 321.82 L354.31 321.82 L354.71 321.82 L355.11 321.82 L355.51 321.81 L355.91 321.81 L356.31 321.81 L356.71 321.81 L357.11 321.81 L357.51 321.8 L357.91 321.8 L358.31 321.8 L358.72 321.8 L359.12 321.8 L359.52 321.8 L359.92 321.8 L360.32 321.8 L360.72 321.8 L361.12 321.8 L361.52 321.8 L361.92 321.8 L362.32 321.8 L362.72 321.8 L363.12 321.8 L363.52 321.8 L363.92 321.8 L364.32 321.8 L364.72 321.81 L365.12 321.81 L365.52 321.81 L365.92 321.81 L366.32 321.81 L366.72 321.81 L367.12 321.81 L367.52 321.82 L367.92 321.82 L368.32 321.82 L368.72 321.82 L369.12 321.82 L369.52 321.83 L369.92 321.83 L370.32 321.83 L370.72 321.84 L371.12 321.84 L371.52 321.84 L371.92 321.85 L372.32 321.85 L372.72 321.86 L373.12 321.86 L373.52 321.87 L373.92 321.87 L374.32 321.88 L374.72 321.88 L375.12 321.89 L375.52 321.89 L375.92 321.9 L376.32 321.91 L376.72 321.91 L377.12 321.92 L377.52 321.93 L377.92 321.94 L378.32 321.95 L378.72 321.95 L379.12 321.96 L379.52 321.97 L379.93 321.98 L380.33 321.99 L380.73 322 L381.13 322.01 L381.53 322.02 L381.93 322.03 L382.33 322.04 L382.73 322.06 L383.13 322.07 L383.53 322.08 L383.93 322.09 L384.33 322.11 L384.73 322.12 L385.13 322.14 L385.53 322.15 L385.93 322.17 L386.33 322.18 L386.73 322.2 L387.13 322.24 L387.53 322.39 L387.93 322.64 L388.33 323.01 L388.73 324.01 L389.13 327.05 L389.53 330.67 L389.93 335.38 L390.33 340.27 L390.73 344.36 L391.13 348.33 L391.53 350.86 L391.93 351.35 L392.33 351.65 L392.73 351.84 L393.13 351.9 L393.53 351.91 L393.93 351.93 L394.33 351.94 L394.73 351.95 L395.13 351.96 L395.53 351.96 L395.93 351.97 L396.33 351.98 L396.73 351.98 L397.13 351.99 L397.53 351.99 L397.93 351.99 L398.33 352 L398.73 352 L399.13 352 L399.53 352 L399.93 352 L400.33 352 L400.73 352 L401.14 351.99 L401.54 351.99 L401.94 351.99 L402.34 351.98 L402.74 351.97 L403.14 351.96 L403.54 351.95 L403.94 351.94 L404.34 351.93 L404.74 351.91 L405.14 351.9 L405.54 351.88 L405.94 351.86 L406.34 351.85 L406.74 351.83 L407.14 351.81 L407.54 351.79 L407.94 351.76 L408.34 351.74 L408.74 351.72 L409.14 351.69 L409.54 351.66 L409.94 351.64 L410.34 351.61 L410.74 351.58 L411.14 351.55 L411.54 351.52 L411.94 351.49 L412.34 351.45 L412.74 351.42 L413.14 351.39 L413.54 351.35 L413.94 351.31 L414.34 351.28 L414.74 351.24 L415.14 351.2 L415.54 351.16 L415.94 351.12 L416.34 351.08 L416.74 351.04 L417.14 351 L417.54 350.96 L417.94 350.92 L418.34 350.87 L418.74 350.83 L419.14 350.78 L419.54 350.74 L419.94 350.69 L420.34 350.65 L420.74 350.6 L421.14 350.55 L421.54 350.5 L421.94 350.46 L422.35 350.41 L422.75 350.36 L423.15 350.3 L423.55 350.23 L423.95 350.16 L424.35 350.09 L424.75 350.01 L425.15 349.92 L425.55 349.82 L425.95 349.72 L426.35 349.62 L426.75 349.5 L427.15 349.38 L427.55 349.26 L427.95 349.13 L428.35 348.99 L428.75 348.85 L429.15 348.69 L429.55 348.51 L429.95 348.31 L430.35 348.09 L430.75 347.85 L431.15 347.59 L431.55 347.29 L431.95 346.98 L432.35 346.63 L432.75 346.25 L433.15 345.81 L433.55 345.22 L433.95 344.45 L434.35 343.28 L434.75 341.3 L435.15 338.81 L435.55 336.21 L435.95 333.76 L436.35 330.89 L436.75 328.17 L437.15 326.49 L437.55 325.89 L437.95 325.42 L438.35 325.05 L438.75 324.76 L439.15 324.55 L439.55 324.41 L439.95 324.31 L440.35 324.22 L440.75 324.14 L441.15 324.07 L441.55 324.01 L441.95 323.95 L442.35 323.91 L442.75 323.86 L443.15 323.82 L443.56 323.78 L443.96 323.75 L444.36 323.71 L444.76 323.68 L445.16 323.64 L445.56 323.61 L445.96 323.57 L446.36 323.53 L446.76 323.5 L447.16 323.46 L447.56 323.43 L447.96 323.39 L448.36 323.36 L448.76 323.33 L449.16 323.29 L449.56 323.26 L449.96 323.22 L450.36 323.19 L450.76 323.16 L451.16 323.12 L451.56 323.09 L451.96 323.06 L452.36 323.03 L452.76 323 L453.16 322.97 L453.56 322.94 L453.96 322.91 L454.36 322.88 L454.76 322.85 L455.16 322.82 L455.56 322.79 L455.96 322.76 L456.36 322.73 L456.76 322.7 L457.16 322.68 L457.56 322.65 L457.96 322.62 L458.36 322.6 L458.76 322.57 L459.16 322.55 L459.56 322.53 L459.96 322.5 L460.36 322.48 L460.76 322.46 L461.16 322.44 L461.56 322.41 L461.96 322.39 L462.36 322.37 L462.76 322.35 L463.16 322.34 L463.56 322.32 L463.96 322.3 L464.36 322.28 L464.77 322.27 L465.17 322.25 L465.57 322.24 L465.97 322.22 L466.37 322.21 L466.77 322.2 L467.17 322.18 L467.57 322.17 L467.97 322.16 L468.37 322.15 L468.77 322.14 L469.17 322.14 L469.57 322.13 L469.97 322.12 L470.37 322.12 L470.77 322.11 L471.17 322.11 L471.57 322.1 L471.97 322.1 L472.37 322.1 L472.77 322.1 L473.17 322.15 L473.57 322.34 L473.97 322.67 L474.37 323.16 L474.77 327.13 L475.17 334.72 L475.57 341.09 L475.97 347.36 L476.37 349.87 L476.77 350.21 L477.17 350.47 L477.57 350.66 L477.97 350.79 L478.37 350.89 L478.77 350.96 L479.17 351.03 L479.57 351.09 L479.97 351.15 L480.37 351.2 L480.77 351.25 L481.17 351.31 L481.57 351.36 L481.97 351.4 L482.37 351.45 L482.77 351.49 L483.17 351.53 L483.57 351.57 L483.97 351.61 L484.37 351.64 L484.77 351.68 L485.17 351.71 L485.57 351.73 L485.98 351.76 L486.38 351.78 L486.78 351.8 L487.18 351.82 L487.58 351.84 L487.98 351.86 L488.38 351.87 L488.78 351.88 L489.18 351.89 L489.58 351.89 L489.98 351.9 L490.38 351.9 L490.78 351.9 L491.18 351.9 L491.58 351.89 L491.98 351.88 L492.38 351.88 L492.78 351.86 L493.18 351.85 L493.58 351.83 L493.98 351.82 L494.38 351.8 L494.78 351.78 L495.18 351.75 L495.58 351.73 L495.98 351.7 L496.38 351.67 L496.78 351.64 L497.18 351.61 L497.58 351.58 L497.98 351.54 L498.38 351.51 L498.78 351.47 L499.18 351.43 L499.58 351.39 L499.98 351.35 L500.38 351.3 L500.78 351.26 L501.18 351.21 L501.58 351.17 L501.98 351.12 L502.38 351.07 L502.78 351.02 L503.18 350.97 L503.58 350.92 L503.98 350.87 L504.38 350.81 L504.78 350.76 L505.18 350.7 L505.58 350.65 L505.98 350.59 L506.38 350.53 L506.78 350.47 L507.19 350.42 L507.59 350.36 L507.99 350.3 L508.39 350.23 L508.79 350.16 L509.19 350.08 L509.59 350 L509.99 349.92 L510.39 349.82 L510.79 349.72 L511.19 349.61 L511.59 349.5 L511.99 349.37 L512.39 349.24 L512.79 349.09 L513.19 348.94 L513.59 348.77 L513.99 348.6 L514.39 348.41 L514.79 348.2 L515.19 347.93 L515.59 347.6 L515.99 347.18 L516.39 346.68 L516.79 346.09 L517.19 345.41 L517.59 344.39 L517.99 342.62 L518.39 340.37 L518.79 337.95 L519.19 335.7 L519.59 333.84 L519.99 331.94 L520.39 330.08 L520.79 328.4 L521.19 327.08 L521.59 326.25 L521.99 325.66 L522.39 325.15 L522.79 324.72 L523.19 324.37 L523.59 324.1 L523.99 323.9 L524.39 323.76 L524.79 323.63 L525.19 323.51 L525.59 323.4 L525.99 323.31 L526.39 323.22 L526.79 323.14 L527.19 323.06 L527.59 323 L527.99 322.93 L528.4 322.87 L528.8 322.82 L529.2 322.76 L529.6 322.7 L530 322.65 L530.4 322.59 L530.8 322.53 L531.2 322.47 L531.6 322.41 L532 322.35 L532.4 322.29 L532.8 322.24 L533.2 322.18 L533.6 322.13 L534 322.08 L534.4 322.03 L534.8 321.98 L535.2 321.93 L535.6 321.89 L536 321.84 L536.4 321.8 L536.8 321.76 L537.2 321.73 L537.6 321.69 L538 321.66 L538.4 321.63 L538.8 321.6" fill="none" stroke="#000" stroke-width="1.7" stroke-linejoin="round" stroke-linecap="butt" clip-path="url(#c21)"/>
<g fill="#000"><circle cx="326.7" cy="323.2" r="2.05"/><circle cx="334.56" cy="321.6" r="2.05"/><circle cx="342.41" cy="320.1" r="2.05"/><circle cx="350.27" cy="320.3" r="2.05"/><circle cx="358.12" cy="320.9" r="2.05"/><circle cx="365.98" cy="321.6" r="2.05"/><circle cx="373.83" cy="320.5" r="2.05"/><circle cx="381.69" cy="319.3" r="2.05"/><circle cx="389.54" cy="356.3" r="2.05"/><circle cx="397.4" cy="353.5" r="2.05"/><circle cx="405.26" cy="353.5" r="2.05"/><circle cx="413.11" cy="354" r="2.05"/><circle cx="420.97" cy="351.9" r="2.05"/><circle cx="428.82" cy="348.5" r="2.05"/><circle cx="436.68" cy="341.5" r="2.05"/><circle cx="444.53" cy="321.1" r="2.05"/><circle cx="452.39" cy="321.1" r="2.05"/><circle cx="460.24" cy="320.5" r="2.05"/><circle cx="468.1" cy="322.2" r="2.05"/><circle cx="475.96" cy="350.8" r="2.05"/><circle cx="483.81" cy="350.4" r="2.05"/><circle cx="491.67" cy="352.9" r="2.05"/><circle cx="499.52" cy="352.1" r="2.05"/><circle cx="507.38" cy="351.5" r="2.05"/><circle cx="515.23" cy="350.8" r="2.05"/><circle cx="523.09" cy="326.8" r="2.05"/><circle cx="530.94" cy="320.1" r="2.05"/><circle cx="538.8" cy="320.1" r="2.05"/></g>
<text x="30.1" y="402.3" font-size="9.9" fill="#1a1a1a" textLength="14.9" lengthAdjust="spacingAndGlyphs">S10</text>
<text x="46.1" y="402.3" font-size="7.2" fill="#1a1a1a">：</text>
<text x="55.1" y="402.3" font-size="9.9" fill="#1a1a1a" textLength="84.9" lengthAdjust="spacingAndGlyphs">measured data [m/s]</text>
<text x="30.1" y="412.7" font-size="9.9" fill="#1a1a1a" textLength="14.9" lengthAdjust="spacingAndGlyphs">S10</text>
<text x="46.1" y="412.7" font-size="7.2" fill="#1a1a1a">：</text>
<text x="55.1" y="412.7" font-size="9.9" fill="#1a1a1a" textLength="84.5" lengthAdjust="spacingAndGlyphs">calculated data [m/s]</text>
<circle cx="155.7" cy="399.55" r="1.95" fill="#000"/>
<circle cx="171.1" cy="399.55" r="1.95" fill="#000"/>
<path d="M147.5 409.4H179.4" stroke="#000" stroke-width="1.5" fill="none"/>
<path d="M37.26 490.5v2.8M45.33 489.8v4.8M53.39 490.5v2.8M61.45 490.5v2.8M69.51 490.5v2.8M77.58 490.5v2.8M85.64 490.5v2.8M93.7 490.5v2.8M101.77 490.5v2.8M109.83 490.5v2.8M117.89 490.5v2.8M125.96 490.5v2.8M134.02 490.5v2.8M142.08 489.8v4.8M150.14 490.5v2.8M158.21 490.5v2.8M166.27 490.5v2.8M174.33 490.5v2.8M182.4 490.5v2.8M190.46 490.5v2.8M198.52 490.5v2.8M206.59 490.5v2.8M214.65 490.5v2.8M222.71 490.5v2.8M230.77 490.5v2.8M238.84 489.8v4.8" stroke="#777" stroke-width="1" fill="none"/>
<path d="M24.2 489.5h5M24.2 469.57h5M24.2 449.63h5M24.2 429.7h5" stroke="#777" stroke-width="1" fill="none"/>
<text x="8.26" y="494" font-size="10.2" fill="#1a1a1a" textLength="13.54" lengthAdjust="spacingAndGlyphs">0.0</text>
<text x="8.26" y="474.07" font-size="10.2" fill="#1a1a1a" textLength="13.54" lengthAdjust="spacingAndGlyphs">0.5</text>
<text x="8.26" y="454.13" font-size="10.2" fill="#1a1a1a" textLength="13.54" lengthAdjust="spacingAndGlyphs">1.0</text>
<text x="8.26" y="434.2" font-size="10.2" fill="#1a1a1a" textLength="13.54" lengthAdjust="spacingAndGlyphs">1.5</text>
<rect x="29.2" y="429.7" width="217.7" height="59.8" fill="none" stroke="#151515" stroke-width="1.2"/>
<text x="33.44" y="506.3" font-size="10.2" fill="#1a1a1a" textLength="24.38" lengthAdjust="spacingAndGlyphs">12:00</text>
<text x="19.43" y="517.8" font-size="10.2" fill="#1a1a1a" textLength="52.0" lengthAdjust="spacingAndGlyphs">2011-05-04</text>
<text x="130.19" y="506.3" font-size="10.2" fill="#1a1a1a" textLength="24.38" lengthAdjust="spacingAndGlyphs">00:00</text>
<text x="129.92" y="517.8" font-size="10.2" fill="#1a1a1a" textLength="24.91" lengthAdjust="spacingAndGlyphs">05-05</text>
<text x="226.95" y="506.3" font-size="10.2" fill="#1a1a1a" textLength="24.38" lengthAdjust="spacingAndGlyphs">12:00</text>
<path d="M11.1 470.18 L11.6 470.19 L12.1 470.2 L12.6 470.22 L13.1 470.25 L13.6 470.28 L14.1 470.33 L14.6 470.38 L15.1 470.45 L15.6 470.53 L16.1 470.62 L16.6 470.72 L17.1 470.83 L17.6 470.95 L18.1 471.09 L18.6 471.24 L19.1 471.41 L19.6 471.59 L20.1 471.78 L20.6 471.99 L21.1 472.22 L21.6 472.46 L22.1 472.71 L22.6 472.99 L23.1 473.28 L23.6 473.59 L24.1 473.92 L24.6 474.26 L25.1 474.62 L25.6 475.01 L26.1 475.41 L26.6 475.82 L27.1 476.26 L27.6 476.72 L28.1 477.19 L28.6 477.68 L29.1 478.2 L29.6 478.73 L30.1 479.28 L30.6 479.85 L31.1 480.43 L31.6 481.04 L32.1 481.66 L32.6 482.3 L33.1 482.95 L33.6 483.62 L34.1 484.31 L34.6 485.01 L35.1 485.58 L35.6 485.98 L36.1 486.19 L36.6 486.2 L37.1 486.05 L37.6 485.8 L38.1 485.4 L38.6 484.8 L39.1 484.01 L39.6 483.05 L40.1 481.97 L40.6 480.91 L41.1 479.87 L41.6 478.85 L42.1 477.85 L42.6 476.88 L43.1 475.93 L43.6 475.01 L44.1 474.11 L44.6 473.24 L45.1 472.4 L45.6 471.58 L46.1 470.79 L46.6 470.03 L47.1 469.3 L47.6 468.59 L48.1 467.91 L48.6 467.26 L49.1 466.63 L49.6 466.03 L50.1 465.46 L50.6 464.92 L51.1 464.4 L51.6 463.9 L52.1 463.43 L52.6 462.99 L53.1 462.57 L53.6 462.18 L54.1 461.81 L54.6 461.46 L55.1 461.14 L55.6 460.83 L56.1 460.55 L56.6 460.29 L57.1 460.05 L57.6 459.84 L58.1 459.64 L58.6 459.45 L59.1 459.29 L59.6 459.15 L60.1 459.02 L60.6 458.9 L61.1 458.81 L61.6 458.72 L62.1 458.65 L62.6 458.6 L63.1 458.56 L63.6 458.53 L64.1 458.51 L64.6 458.5 L64.7 458.5 L65.2 458.5 L65.7 458.52 L66.2 458.54 L66.7 458.56 L67.2 458.6 L67.7 458.65 L68.2 458.71 L68.7 458.77 L69.2 458.85 L69.7 458.94 L70.2 459.04 L70.7 459.15 L71.2 459.28 L71.7 459.41 L72.2 459.57 L72.7 459.73 L73.2 459.91 L73.7 460.1 L74.2 460.31 L74.7 460.53 L75.2 460.76 L75.7 461.02 L76.2 461.29 L76.7 461.57 L77.2 461.87 L77.7 462.19 L78.2 462.53 L78.7 462.88 L79.2 463.26 L79.7 463.65 L80.2 464.06 L80.7 464.49 L81.2 464.93 L81.7 465.4 L82.2 465.88 L82.7 466.39 L83.2 466.91 L83.7 467.46 L84.2 468.02 L84.7 468.61 L85.2 469.21 L85.7 469.83 L86.2 470.48 L86.7 471.14 L87.2 471.82 L87.7 472.52 L88.2 473.24 L88.7 473.98 L89.2 474.74 L89.7 475.52 L90.2 476.31 L90.7 477.13 L91.2 477.96 L91.7 478.81 L92.2 479.67 L92.7 480.56 L93.2 481.45 L93.7 482.36 L94.2 483.26 L94.7 484.01 L95.2 484.59 L95.7 484.96 L96.2 485.16 L96.5 485.21 L97 485.14 L97.5 484.91 L98 484.49 L98.5 483.87 L99 483.1 L99.5 482.23 L100 481.39 L100.5 480.57 L101 479.77 L101.5 479 L102 478.26 L102.5 477.54 L103 476.86 L103.5 476.2 L104 475.58 L104.5 474.98 L105 474.41 L105.5 473.87 L106 473.36 L106.5 472.88 L107 472.43 L107.5 472 L108 471.6 L108.5 471.23 L109 470.89 L109.5 470.57 L110 470.27 L110.5 470 L111 469.75 L111.5 469.53 L112 469.33 L112.5 469.15 L113 468.98 L113.5 468.84 L114 468.72 L114.5 468.61 L115 468.53 L115.5 468.45 L116 468.4 L116.5 468.35 L117 468.32 L117.5 468.31 L118 468.3 L118.5 468.3 L119 468.31 L119.5 468.33 L120 468.35 L120.5 468.37 L121 468.41 L121.5 468.45 L122 468.5 L122.5 468.56 L123 468.62 L123.5 468.7 L124 468.78 L124.5 468.87 L125 468.97 L125.5 469.08 L126 469.2 L126.5 469.33 L127 469.48 L127.5 469.63 L128 469.79 L128.5 469.97 L129 470.15 L129.5 470.35 L130 470.56 L130.5 470.78 L131 471.02 L131.5 471.27 L132 471.53 L132.5 471.8 L133 472.09 L133.5 472.39 L134 472.71 L134.5 473.04 L135 473.38 L135.5 473.74 L136 474.11 L136.5 474.5 L137 474.9 L137.5 475.31 L138 475.74 L138.5 476.19 L139 476.65 L139.5 477.12 L140 477.61 L140.5 478.11 L141 478.63 L141.5 479.15 L142 479.7 L142.5 480.25 L143 480.82 L143.5 481.4 L144 482 L144.5 482.61 L145 483.22 L145.5 483.85 L146 484.49 L146.5 485.14 L147 485.8 L147.5 486.47 L148 487.15 L148.5 487.83 L149 488.52 L149.2 488.8 L149.7 487.99 L150.2 487.2 L150.7 486.42 L151.2 485.66 L151.7 484.92 L152.2 484.2 L152.7 483.51 L153.2 482.84 L153.7 482.2 L154.2 481.59 L154.7 481 L155.2 480.45 L155.7 479.92 L156.2 479.42 L156.7 478.95 L157.2 478.51 L157.7 478.1 L158.2 477.71 L158.7 477.35 L159.2 477.03 L159.7 476.72 L160.2 476.45 L160.7 476.2 L161.2 475.97 L161.7 475.77 L162.2 475.59 L162.7 475.43 L163.2 475.29 L163.7 475.17 L164.2 475.07 L164.7 474.99 L165.2 474.92 L165.7 474.87 L166.2 474.83 L166.7 474.81 L167.2 474.8 L167.4 474.8 L167.9 474.81 L168.4 474.82 L168.9 474.86 L169.4 474.9 L169.9 474.97 L170.4 475.05 L170.9 475.14 L171.4 475.26 L171.9 475.4 L172.4 475.56 L172.9 475.74 L173.4 475.95 L173.9 476.18 L174.4 476.43 L174.9 476.72 L175.4 477.03 L175.9 477.37 L176.4 477.73 L176.9 478.13 L177.4 478.56 L177.9 479.02 L178.4 479.51 L178.9 480.03 L179.4 480.59 L179.9 481.17 L180.4 481.79 L180.9 482.43 L181.4 483.1 L181.9 483.8 L182.4 484.48 L182.9 485.03 L183.4 485.41 L183.9 485.6 L184.4 485.62 L184.6 485.51 L185.1 485.28 L185.6 484.89 L186.1 484.32 L186.6 483.56 L187.1 482.65 L187.6 481.65 L188.1 480.68 L188.6 479.73 L189.1 478.8 L189.6 477.9 L190.1 477.03 L190.6 476.18 L191.1 475.37 L191.6 474.59 L192.1 473.83 L192.6 473.11 L193.1 472.42 L193.6 471.75 L194.1 471.12 L194.6 470.51 L195.1 469.94 L195.6 469.4 L196.1 468.88 L196.6 468.39 L197.1 467.93 L197.6 467.5 L198.1 467.1 L198.6 466.72 L199.1 466.37 L199.6 466.05 L200.1 465.75 L200.6 465.47 L201.1 465.22 L201.6 464.99 L202.1 464.78 L202.6 464.59 L203.1 464.43 L203.6 464.28 L204.1 464.15 L204.6 464.04 L205.1 463.95 L205.6 463.87 L206.1 463.81 L206.6 463.76 L207.1 463.73 L207.6 463.71 L208.1 463.7 L208.2 463.7 L208.7 463.71 L209.2 463.72 L209.7 463.75 L210.2 463.79 L210.7 463.85 L211.2 463.92 L211.7 464 L212.2 464.1 L212.7 464.22 L213.2 464.35 L213.7 464.5 L214.2 464.67 L214.7 464.86 L215.2 465.07 L215.7 465.3 L216.2 465.55 L216.7 465.82 L217.2 466.12 L217.7 466.44 L218.2 466.78 L218.7 467.15 L219.2 467.54 L219.7 467.96 L220.2 468.41 L220.7 468.88 L221.2 469.38 L221.7 469.9 L222.2 470.45 L222.7 471.04 L223.2 471.64 L223.7 472.28 L224.2 472.95 L224.7 473.64 L225.2 474.36 L225.7 475.11 L226.2 475.89 L226.7 476.69 L227.2 477.52 L227.7 478.38 L228.2 479.27 L228.7 480.18 L229.2 481.11 L229.7 482.07 L230.2 483.04 L230.7 483.98 L231.2 484.75 L231.7 485.3 L232.2 485.65 L232.7 485.8 L232.8 485.8 L233.3 485.64 L233.8 485.3 L234.3 484.75 L234.8 483.98 L235.3 483.04 L235.8 482.02 L236.3 481.02 L236.8 480.04 L237.3 479.08 L237.8 478.14 L238.3 477.23 L238.8 476.35 L239.3 475.49 L239.8 474.66 L240.3 473.86 L240.8 473.08 L241.3 472.33 L241.8 471.61 L242.3 470.91 L242.8 470.25 L243.3 469.61 L243.8 469 L244.3 468.41 L244.8 467.85 L245.3 467.32 L245.8 466.82 L246.3 466.34 L246.8 465.89 L247.3 465.46 L247.8 465.06 L248.3 464.68 L248.8 464.33 L249.3 464 L249.8 463.69 L250.3 463.41 L250.8 463.14 L251.3 462.9 L251.8 462.68 L252.3 462.48 L252.8 462.3 L253.3 462.13 L253.8 461.99 L254.3 461.86 L254.8 461.75 L255.3 461.65 L255.8 461.57 L256.3 461.5 L256.8 461.45 L257.3 461.41 L257.8 461.38 L258.3 461.36 L258.8 461.36" fill="none" stroke="#000" stroke-width="1.7" stroke-linejoin="round" stroke-linecap="butt" clip-path="url(#c30)"/>
<g fill="#000"><circle cx="29.2" cy="481" r="2.05"/><circle cx="37.26" cy="487.7" r="2.05"/><circle cx="45.33" cy="479.4" r="2.05"/><circle cx="53.39" cy="469.3" r="2.05"/><circle cx="61.45" cy="457.4" r="2.05"/><circle cx="69.51" cy="442.6" r="2.05"/><circle cx="77.58" cy="440.7" r="2.05"/><circle cx="85.64" cy="456.8" r="2.05"/><circle cx="93.7" cy="481.4" r="2.05"/><circle cx="101.77" cy="482.1" r="2.05"/><circle cx="109.83" cy="468.3" r="2.05"/><circle cx="117.89" cy="464.7" r="2.05"/><circle cx="125.96" cy="467.4" r="2.05"/><circle cx="134.02" cy="472.7" r="2.05"/><circle cx="142.08" cy="482.9" r="2.05"/><circle cx="150.14" cy="485.6" r="2.05"/><circle cx="158.21" cy="476.9" r="2.05"/><circle cx="166.27" cy="468.7" r="2.05"/><circle cx="174.33" cy="471" r="2.05"/><circle cx="182.4" cy="475.8" r="2.05"/><circle cx="190.46" cy="487.7" r="2.05"/><circle cx="198.52" cy="474.8" r="2.05"/><circle cx="206.59" cy="461.6" r="2.05"/><circle cx="214.65" cy="459.9" r="2.05"/><circle cx="222.71" cy="469.3" r="2.05"/><circle cx="230.77" cy="481.9" r="2.05"/><circle cx="238.84" cy="482.1" r="2.05"/><circle cx="246.9" cy="472.7" r="2.05"/></g>
<text x="327.3" y="402.3" font-size="9.9" fill="#1a1a1a" textLength="14.9" lengthAdjust="spacingAndGlyphs">S10</text>
<text x="343.3" y="402.3" font-size="7.2" fill="#1a1a1a">：</text>
<text x="351.9" y="402.3" font-size="9.9" fill="#1a1a1a" textLength="85.4" lengthAdjust="spacingAndGlyphs">measured data [deg]</text>
<text x="327.3" y="412.7" font-size="9.9" fill="#1a1a1a" textLength="14.9" lengthAdjust="spacingAndGlyphs">S10</text>
<text x="343.3" y="412.7" font-size="7.2" fill="#1a1a1a">：</text>
<text x="351.9" y="412.7" font-size="9.9" fill="#1a1a1a" textLength="85" lengthAdjust="spacingAndGlyphs">calculated data [deg]</text>
<circle cx="452.6" cy="399.55" r="1.95" fill="#000"/>
<circle cx="468" cy="399.55" r="1.95" fill="#000"/>
<path d="M444.5 409.4H476.5" stroke="#000" stroke-width="1.5" fill="none"/>
<path d="M334.56 490.5v2.8M342.41 489.8v4.8M350.27 490.5v2.8M358.12 490.5v2.8M365.98 490.5v2.8M373.83 490.5v2.8M381.69 490.5v2.8M389.54 490.5v2.8M397.4 490.5v2.8M405.26 490.5v2.8M413.11 490.5v2.8M420.97 490.5v2.8M428.82 490.5v2.8M436.68 489.8v4.8M444.53 490.5v2.8M452.39 490.5v2.8M460.24 490.5v2.8M468.1 490.5v2.8M475.96 490.5v2.8M483.81 490.5v2.8M491.67 490.5v2.8M499.52 490.5v2.8M507.38 490.5v2.8M515.23 490.5v2.8M523.09 490.5v2.8M530.94 489.8v4.8" stroke="#777" stroke-width="1" fill="none"/>
<path d="M321.7 489.5h5M321.7 474.55h5M321.7 459.6h5M321.7 444.65h5M321.7 429.7h5" stroke="#777" stroke-width="1" fill="none"/>
<text x="313.48" y="494" font-size="10.2" fill="#1a1a1a" textLength="5.42" lengthAdjust="spacingAndGlyphs">0</text>
<text x="302.65" y="464.1" font-size="10.2" fill="#1a1a1a" textLength="16.25" lengthAdjust="spacingAndGlyphs">180</text>
<text x="302.65" y="434.2" font-size="10.2" fill="#1a1a1a" textLength="16.25" lengthAdjust="spacingAndGlyphs">360</text>
<rect x="326.7" y="429.7" width="212.1" height="59.8" fill="none" stroke="#151515" stroke-width="1.2"/>
<text x="330.52" y="506.3" font-size="10.2" fill="#1a1a1a" textLength="24.38" lengthAdjust="spacingAndGlyphs">12:00</text>
<text x="316.51" y="517.8" font-size="10.2" fill="#1a1a1a" textLength="52.0" lengthAdjust="spacingAndGlyphs">2011-05-04</text>
<text x="424.79" y="506.3" font-size="10.2" fill="#1a1a1a" textLength="24.38" lengthAdjust="spacingAndGlyphs">00:00</text>
<text x="424.52" y="517.8" font-size="10.2" fill="#1a1a1a" textLength="24.91" lengthAdjust="spacingAndGlyphs">05-05</text>
<text x="519.06" y="506.3" font-size="10.2" fill="#1a1a1a" textLength="24.38" lengthAdjust="spacingAndGlyphs">12:00</text>
<path d="M326.7 488.8 L327.1 488.79 L327.5 488.76 L327.9 488.72 L328.3 488.66 L328.7 488.57 L329.1 488.47 L329.5 488.35 L329.9 488.2 L330.3 488.04 L330.7 487.85 L331.1 487.62 L331.51 486.83 L331.91 485.43 L332.31 483.6 L332.71 481.52 L333.11 479.36 L333.51 476.42 L333.91 472.64 L334.31 469.08 L334.71 466.77 L335.11 465.47 L335.51 464.34 L335.91 463.37 L336.31 462.6 L336.71 462.02 L337.11 461.65 L337.51 461.45 L337.91 461.26 L338.31 461.1 L338.71 460.96 L339.11 460.84 L339.51 460.74 L339.91 460.65 L340.31 460.58 L340.72 460.54 L341.12 460.5 L341.52 460.49 L341.92 460.47 L342.32 460.45 L342.72 460.44 L343.12 460.43 L343.52 460.42 L343.92 460.41 L344.32 460.4 L344.72 460.39 L345.12 460.38 L345.52 460.38 L345.92 460.37 L346.32 460.36 L346.72 460.36 L347.12 460.35 L347.52 460.35 L347.92 460.34 L348.32 460.33 L348.72 460.33 L349.12 460.32 L349.52 460.31 L349.93 460.3 L350.33 460.29 L350.73 460.28 L351.13 460.27 L351.53 460.27 L351.93 460.26 L352.33 460.25 L352.73 460.24 L353.13 460.24 L353.53 460.23 L353.93 460.22 L354.33 460.22 L354.73 460.21 L355.13 460.2 L355.53 460.2 L355.93 460.19 L356.33 460.18 L356.73 460.18 L357.13 460.17 L357.53 460.17 L357.93 460.16 L358.33 460.16 L358.73 460.15 L359.14 460.15 L359.54 460.14 L359.94 460.14 L360.34 460.13 L360.74 460.13 L361.14 460.12 L361.54 460.12 L361.94 460.11 L362.34 460.11 L362.74 460.1 L363.14 460.1 L363.54 460.09 L363.94 460.09 L364.34 460.08 L364.74 460.07 L365.14 460.07 L365.54 460.06 L365.94 460.06 L366.34 460.05 L366.74 460.04 L367.14 460.04 L367.54 460.03 L367.94 460.02 L368.35 460.02 L368.75 460.01 L369.15 460 L369.55 459.99 L369.95 459.98 L370.35 459.98 L370.75 459.97 L371.15 459.96 L371.55 459.95 L371.95 459.94 L372.35 459.93 L372.75 459.92 L373.15 459.91 L373.55 459.89 L373.95 459.88 L374.35 459.87 L374.75 459.86 L375.15 459.84 L375.55 459.83 L375.95 459.82 L376.35 459.8 L376.75 459.79 L377.15 459.77 L377.55 459.75 L377.96 459.74 L378.36 459.72 L378.76 459.7 L379.16 459.68 L379.56 459.66 L379.96 459.65 L380.36 459.62 L380.76 459.6 L381.16 459.58 L381.56 459.56 L381.96 459.54 L382.36 459.51 L382.76 459.49 L383.16 459.43 L383.56 459.33 L383.96 459.21 L384.36 459.04 L384.76 458.85 L385.16 458.63 L385.56 458.37 L385.96 458.09 L386.36 457.79 L386.76 457.46 L387.17 457.1 L387.57 456.73 L387.97 456.33 L388.37 455.79 L388.77 455.07 L389.17 454.19 L389.57 453.18 L389.97 452.05 L390.37 450.83 L390.77 449.49 L391.17 447.6 L391.57 445.31 L391.97 442.86 L392.37 440.54 L392.77 438.61 L393.17 437.32 L393.57 436.34 L393.97 435.44 L394.37 434.63 L394.77 433.92 L395.17 433.32 L395.57 432.82 L395.97 432.45 L396.38 432.2 L396.78 431.98 L397.18 431.79 L397.58 431.61 L397.98 431.44 L398.38 431.29 L398.78 431.16 L399.18 431.04 L399.58 430.93 L399.98 430.84 L400.38 430.76 L400.78 430.69 L401.18 430.63 L401.58 430.58 L401.98 430.53 L402.38 430.49 L402.78 430.45 L403.18 430.41 L403.58 430.38 L403.98 430.34 L404.38 430.31 L404.78 430.28 L405.18 430.25 L405.59 430.22 L405.99 430.2 L406.39 430.17 L406.79 430.15 L407.19 430.13 L407.59 430.11 L407.99 430.09 L408.39 430.07 L408.79 430.05 L409.19 430.03 L409.59 430.01 L409.99 429.99 L410.39 429.97 L410.79 429.95 L411.19 429.93 L411.59 429.92 L411.99 429.9 L412.39 429.88 L412.79 429.86 L413.19 429.84 L413.59 429.82 L413.99 429.8 L414.39 429.78 L414.8 429.76 L415.2 429.75 L415.6 429.73 L416 429.71 L416.4 429.7 L416.8 429.68 L417.2 429.67 L417.6 429.65 L418 429.64 L418.4 429.63 L418.8 429.61 L419.2 429.6 M420.3 489.3 L420.7 489.28 L421.1 489.25 L421.5 489.23 L421.91 489.2 L422.31 489.17 L422.71 489.15 L423.11 489.12 L423.51 489.09 L423.91 489.06 L424.31 489.02 L424.71 488.99 L425.12 488.96 L425.52 488.92 L425.92 488.88 L426.32 488.85 L426.72 488.81 L427.12 488.77 L427.52 488.73 L427.93 488.69 L428.33 488.65 L428.73 488.61 L429.13 488.57 L429.53 488.53 L429.93 488.48 L430.33 488.44 L430.74 488.4 L431.14 488.35 L431.54 488.31 L431.94 488.26 L432.34 488.21 L432.74 488.17 L433.14 488.12 L433.54 488.07 L433.95 488.02 L434.35 487.98 L434.75 487.93 L435.15 487.88 L435.55 487.83 L435.95 487.78 L436.35 487.73 L436.76 487.68 L437.16 487.64 L437.56 487.6 L437.96 487.55 L438.36 487.5 L438.76 487.43 L439.16 487.34 L439.56 487.18 L439.97 486.81 L440.37 486.24 L440.77 485.49 L441.17 484.57 L441.57 482.82 L441.97 479.8 L442.37 476.34 L442.78 473.26 L443.18 470.57 L443.58 467.86 L443.98 465.62 L444.38 464.32 L444.78 463.5 L445.18 462.84 L445.59 462.31 L445.99 461.91 L446.39 461.61 L446.79 461.38 L447.19 461.18 L447.59 461.01 L447.99 460.86 L448.39 460.74 L448.8 460.64 L449.2 460.56 L449.6 460.49 L450 460.43 L450.4 460.38 L450.8 460.33 L451.2 460.29 L451.61 460.25 L452.01 460.2 L452.41 460.16 L452.81 460.11 L453.21 460.06 L453.61 460.01 L454.01 459.96 L454.41 459.92 L454.82 459.88 L455.22 459.83 L455.62 459.79 L456.02 459.76 L456.42 459.72 L456.82 459.68 L457.22 459.65 L457.63 459.62 L458.03 459.58 L458.43 459.55 L458.83 459.52 L459.23 459.49 L459.63 459.45 L460.03 459.42 L460.44 459.39 L460.84 459.36 L461.24 459.32 L461.64 459.29 L462.04 459.25 L462.44 459.22 L462.84 459.18 L463.24 459.14 L463.65 459.1 L464.05 459.06 L464.45 459.01 L464.85 458.97 L465.25 458.92 L465.65 458.87 L466.05 458.82 L466.46 458.76 L466.86 458.7 L467.26 458.64 L467.66 458.58 L468.06 458.51 L468.46 458.44 L468.86 458.36 L469.26 458.28 L469.67 458.2 L470.07 458.11 L470.47 458.02 L470.87 457.93 L471.27 457.83 L471.67 457.72 L472.07 457.61 L472.48 457.5 L472.88 457.37 L473.28 457.19 L473.68 456.9 L474.08 456.51 L474.48 456.02 L474.88 455.42 L475.29 454.72 L475.69 453.76 L476.09 451.72 L476.49 449.07 L476.89 446.5 L477.29 444.35 L477.69 442.14 L478.09 440.01 L478.5 438.15 L478.9 436.76 L479.3 435.84 L479.7 435.01 L480.1 434.28 L480.5 433.62 L480.9 433.06 L481.31 432.59 L481.71 432.22 L482.11 431.95 L482.51 431.75 L482.91 431.57 L483.31 431.39 L483.71 431.23 L484.11 431.08 L484.52 430.95 L484.92 430.82 L485.32 430.71 L485.72 430.6 L486.12 430.51 L486.52 430.43 L486.92 430.36 L487.33 430.3 L487.73 430.26 L488.13 430.22 L488.53 430.19 L488.93 430.17 L489.33 430.14 L489.73 430.12 L490.14 430.1 L490.54 430.08 L490.94 430.06 L491.34 430.04 L491.74 430.02 L492.14 430 L492.54 429.98 L492.94 429.96 L493.35 429.94 L493.75 429.92 L494.15 429.91 L494.55 429.89 L494.95 429.87 L495.35 429.86 L495.75 429.84 L496.16 429.83 L496.56 429.81 L496.96 429.8 L497.36 429.79 L497.76 429.77 L498.16 429.76 L498.56 429.75 L498.96 429.74 L499.37 429.73 L499.77 429.72 L500.17 429.71 L500.57 429.7 L500.97 429.69 L501.37 429.68 L501.77 429.67 L502.18 429.67 L502.58 429.66 L502.98 429.65 L503.38 429.64 L503.78 429.64 L504.18 429.63 L504.58 429.63 L504.99 429.62 L505.39 429.62 L505.79 429.62 L506.19 429.61 L506.59 429.61 L506.99 429.61 L507.39 429.6 L507.79 429.6 L508.2 429.6 L508.6 429.6 L509 429.6 L509.4 429.6 M512.5 488.8 L512.9 488.8 L513.31 488.79 L513.71 488.78 L514.12 488.76 L514.52 488.74 L514.93 488.72 L515.33 488.68 L515.74 488.65 L516.14 488.61 L516.55 488.56 L516.95 488.51 L517.36 488.45 L517.76 488.39 L518.16 488.32 L518.57 488.24 L518.97 488.16 L519.38 488.08 L519.78 487.99 L520.19 487.89 L520.59 487.78 L521 487.67 L521.4 487.46 L521.81 487.12 L522.21 486.65 L522.62 486.07 L523.02 485.34 L523.42 483.92 L523.83 481.87 L524.23 479.48 L524.64 477.07 L525.04 474.14 L525.45 470.82 L525.85 467.96 L526.26 466.27 L526.66 465.01 L527.07 463.94 L527.47 463.08 L527.88 462.48 L528.28 462.16 L528.68 461.95 L529.09 461.77 L529.49 461.62 L529.9 461.49 L530.3 461.38 L530.71 461.28 L531.11 461.2 L531.52 461.13 L531.92 461.06 L532.33 461.01 L532.73 460.96 L533.14 460.91 L533.54 460.86 L533.94 460.81 L534.35 460.77 L534.75 460.73 L535.16 460.69 L535.56 460.65 L535.97 460.62 L536.37 460.59 L536.78 460.56 L537.18 460.54 L537.59 460.52 L537.99 460.51 L538.4 460.5 L538.8 460.5" fill="none" stroke="#000" stroke-width="1.7" stroke-linejoin="round" stroke-linecap="butt" clip-path="url(#c31)"/>
<g fill="#000"><circle cx="326.7" cy="488.8" r="2.05"/><circle cx="334.56" cy="486.1" r="2.05"/><circle cx="342.41" cy="461.2" r="2.05"/><circle cx="350.27" cy="461" r="2.05"/><circle cx="358.12" cy="459.5" r="2.05"/><circle cx="365.98" cy="460.1" r="2.05"/><circle cx="373.83" cy="459.5" r="2.05"/><circle cx="381.69" cy="459.7" r="2.05"/><circle cx="389.54" cy="454.9" r="2.05"/><circle cx="397.4" cy="431.9" r="2.05"/><circle cx="405.26" cy="489.2" r="2.05"/><circle cx="413.11" cy="429.2" r="2.05"/><circle cx="428.82" cy="488.1" r="2.05"/><circle cx="436.68" cy="488" r="2.05"/><circle cx="444.53" cy="459.5" r="2.05"/><circle cx="452.39" cy="460.5" r="2.05"/><circle cx="460.24" cy="459.5" r="2.05"/><circle cx="468.1" cy="458.5" r="2.05"/><circle cx="475.96" cy="458" r="2.05"/><circle cx="483.81" cy="450.5" r="2.05"/><circle cx="491.67" cy="430.9" r="2.05"/><circle cx="515.23" cy="488.1" r="2.05"/><circle cx="523.09" cy="487.3" r="2.05"/><circle cx="530.94" cy="461.2" r="2.05"/><circle cx="538.8" cy="460.5" r="2.05"/></g>
<text x="30.1" y="531.9" font-size="9.9" fill="#1a1a1a" textLength="14.9" lengthAdjust="spacingAndGlyphs">S11</text>
<text x="46.1" y="531.9" font-size="7.2" fill="#1a1a1a">：</text>
<text x="55.1" y="531.9" font-size="9.9" fill="#1a1a1a" textLength="84.9" lengthAdjust="spacingAndGlyphs">measured data [m/s]</text>
<text x="30.1" y="542.3" font-size="9.9" fill="#1a1a1a" textLength="14.9" lengthAdjust="spacingAndGlyphs">S11</text>
<text x="46.1" y="542.3" font-size="7.2" fill="#1a1a1a">：</text>
<text x="55.1" y="542.3" font-size="9.9" fill="#1a1a1a" textLength="84.5" lengthAdjust="spacingAndGlyphs">calculated data [m/s]</text>
<circle cx="155.7" cy="529.15" r="1.95" fill="#000"/>
<circle cx="171.1" cy="529.15" r="1.95" fill="#000"/>
<path d="M147.5 539H179.4" stroke="#000" stroke-width="1.5" fill="none"/>
<path d="M37.26 620.1v2.8M45.33 619.4v4.8M53.39 620.1v2.8M61.45 620.1v2.8M69.51 620.1v2.8M77.58 620.1v2.8M85.64 620.1v2.8M93.7 620.1v2.8M101.77 620.1v2.8M109.83 620.1v2.8M117.89 620.1v2.8M125.96 620.1v2.8M134.02 620.1v2.8M142.08 619.4v4.8M150.14 620.1v2.8M158.21 620.1v2.8M166.27 620.1v2.8M174.33 620.1v2.8M182.4 620.1v2.8M190.46 620.1v2.8M198.52 620.1v2.8M206.59 620.1v2.8M214.65 620.1v2.8M222.71 620.1v2.8M230.77 620.1v2.8M238.84 619.4v4.8" stroke="#777" stroke-width="1" fill="none"/>
<path d="M24.2 619.1h5M24.2 599.17h5M24.2 579.23h5M24.2 559.3h5" stroke="#777" stroke-width="1" fill="none"/>
<text x="8.26" y="623.6" font-size="10.2" fill="#1a1a1a" textLength="13.54" lengthAdjust="spacingAndGlyphs">0.0</text>
<text x="8.26" y="603.67" font-size="10.2" fill="#1a1a1a" textLength="13.54" lengthAdjust="spacingAndGlyphs">0.5</text>
<text x="8.26" y="583.73" font-size="10.2" fill="#1a1a1a" textLength="13.54" lengthAdjust="spacingAndGlyphs">1.0</text>
<text x="8.26" y="563.8" font-size="10.2" fill="#1a1a1a" textLength="13.54" lengthAdjust="spacingAndGlyphs">1.5</text>
<rect x="29.2" y="559.3" width="217.7" height="59.8" fill="none" stroke="#151515" stroke-width="1.2"/>
<text x="33.44" y="635.9" font-size="10.2" fill="#1a1a1a" textLength="24.38" lengthAdjust="spacingAndGlyphs">12:00</text>
<text x="19.43" y="647.4" font-size="10.2" fill="#1a1a1a" textLength="52.0" lengthAdjust="spacingAndGlyphs">2011-05-04</text>
<text x="130.19" y="635.9" font-size="10.2" fill="#1a1a1a" textLength="24.38" lengthAdjust="spacingAndGlyphs">00:00</text>
<text x="129.92" y="647.4" font-size="10.2" fill="#1a1a1a" textLength="24.91" lengthAdjust="spacingAndGlyphs">05-05</text>
<text x="226.95" y="635.9" font-size="10.2" fill="#1a1a1a" textLength="24.38" lengthAdjust="spacingAndGlyphs">12:00</text>
<path d="M11.5 591.59 L12 591.59 L12.5 591.62 L13 591.67 L13.5 591.74 L14 591.83 L14.5 591.94 L15 592.07 L15.5 592.23 L16 592.4 L16.5 592.6 L17 592.81 L17.5 593.05 L18 593.31 L18.5 593.59 L19 593.9 L19.5 594.22 L20 594.57 L20.5 594.94 L21 595.34 L21.5 595.75 L22 596.19 L22.5 596.65 L23 597.13 L23.5 597.63 L24 598.15 L24.5 598.7 L25 599.26 L25.5 599.85 L26 600.46 L26.5 601.08 L27 601.73 L27.5 602.4 L28 603.08 L28.5 603.78 L29 604.51 L29.5 605.25 L30 606 L30.5 606.77 L31 607.56 L31.5 608.37 L32 609.18 L32.5 610.01 L33 610.86 L33.5 611.71 L34 612.58 L34.5 613.46 L35 614.35 L35.5 615.24 L36 616.15 L36.5 617.06 L37 617.98 L37.5 618.9 L38 617.81 L38.5 616.73 L39 615.65 L39.5 614.58 L40 613.52 L40.5 612.47 L41 611.42 L41.5 610.39 L42 609.37 L42.5 608.36 L43 607.36 L43.5 606.37 L44 605.4 L44.5 604.45 L45 603.5 L45.5 602.58 L46 601.67 L46.5 600.78 L47 599.91 L47.5 599.05 L48 598.22 L48.5 597.4 L49 596.6 L49.5 595.82 L50 595.07 L50.5 594.33 L51 593.62 L51.5 592.92 L52 592.25 L52.5 591.6 L53 590.97 L53.5 590.36 L54 589.78 L54.5 589.22 L55 588.68 L55.5 588.17 L56 587.67 L56.5 587.21 L57 586.76 L57.5 586.34 L58 585.94 L58.5 585.56 L59 585.21 L59.5 584.88 L60 584.57 L60.5 584.29 L61 584.02 L61.5 583.78 L62 583.57 L62.5 583.37 L63 583.2 L63.5 583.05 L64 582.92 L64.5 582.82 L65 582.73 L65.5 582.67 L66 582.63 L66.5 582.6 L66.8 582.6 L67.3 582.61 L67.8 582.64 L68.3 582.69 L68.8 582.75 L69.3 582.84 L69.8 582.95 L70.3 583.07 L70.8 583.22 L71.3 583.39 L71.8 583.58 L72.3 583.79 L72.8 584.02 L73.3 584.27 L73.8 584.54 L74.3 584.83 L74.8 585.15 L75.3 585.49 L75.8 585.84 L76.3 586.22 L76.8 586.63 L77.3 587.05 L77.8 587.49 L78.3 587.96 L78.8 588.44 L79.3 588.95 L79.8 589.48 L80.3 590.03 L80.8 590.61 L81.3 591.2 L81.8 591.81 L82.3 592.45 L82.8 593.1 L83.3 593.77 L83.8 594.47 L84.3 595.18 L84.8 595.91 L85.3 596.67 L85.8 597.44 L86.3 598.22 L86.8 599.03 L87.3 599.85 L87.8 600.69 L88.3 601.55 L88.8 602.42 L89.3 603.31 L89.8 604.21 L90.3 605.13 L90.8 606.06 L91.3 607.01 L91.8 607.96 L92.3 608.93 L92.8 609.91 L93.3 610.9 L93.8 611.9 L94.3 612.91 L94.8 613.93 L95.3 614.96 L95.8 615.99 L96.3 617.03 L96.8 618.07 L97.1 618.7 L97.6 617.84 L98.1 616.99 L98.6 616.14 L99.1 615.3 L99.6 614.47 L100.1 613.65 L100.6 612.84 L101.1 612.05 L101.6 611.26 L102.1 610.49 L102.6 609.73 L103.1 608.99 L103.6 608.27 L104.1 607.56 L104.6 606.87 L105.1 606.2 L105.6 605.55 L106.1 604.91 L106.6 604.3 L107.1 603.71 L107.6 603.14 L108.1 602.59 L108.6 602.06 L109.1 601.55 L109.6 601.07 L110.1 600.61 L110.6 600.17 L111.1 599.75 L111.6 599.36 L112.1 598.99 L112.6 598.65 L113.1 598.33 L113.6 598.03 L114.1 597.75 L114.6 597.5 L115.1 597.27 L115.6 597.06 L116.1 596.88 L116.6 596.72 L117.1 596.58 L117.6 596.46 L118.1 596.37 L118.6 596.29 L119.1 596.24 L119.6 596.21 L120.1 596.2 L120.6 596.21 L121.1 596.22 L121.6 596.25 L122.1 596.3 L122.6 596.35 L123.1 596.42 L123.6 596.5 L124.1 596.6 L124.6 596.7 L125.1 596.82 L125.6 596.95 L126.1 597.1 L126.6 597.26 L127.1 597.43 L127.6 597.62 L128.1 597.82 L128.6 598.04 L129.1 598.26 L129.6 598.51 L130.1 598.76 L130.6 599.03 L131.1 599.31 L131.6 599.61 L132.1 599.92 L132.6 600.24 L133.1 600.58 L133.6 600.93 L134.1 601.29 L134.6 601.67 L135.1 602.06 L135.6 602.46 L136.1 602.88 L136.6 603.31 L137.1 603.75 L137.6 604.2 L138.1 604.67 L138.6 605.14 L139.1 605.63 L139.6 606.13 L140.1 606.64 L140.6 607.17 L141.1 607.7 L141.6 608.24 L142.1 608.8 L142.6 609.36 L143.1 609.93 L143.6 610.51 L144.1 611.11 L144.6 611.7 L145.1 612.31 L145.6 612.92 L146.1 613.54 L146.6 614.17 L147.1 614.8 L147.6 615.44 L148.1 616.09 L148.6 616.73 L149.1 617.39 L149.6 618.04 L150.1 618.7 L150.6 618.07 L151.1 617.45 L151.6 616.83 L152.1 616.22 L152.6 615.62 L153.1 615.03 L153.6 614.44 L154.1 613.87 L154.6 613.31 L155.1 612.77 L155.6 612.24 L156.1 611.72 L156.6 611.22 L157.1 610.73 L157.6 610.27 L158.1 609.82 L158.6 609.38 L159.1 608.97 L159.6 608.57 L160.1 608.2 L160.6 607.84 L161.1 607.5 L161.6 607.18 L162.1 606.88 L162.6 606.61 L163.1 606.35 L163.6 606.11 L164.1 605.89 L164.6 605.7 L165.1 605.52 L165.6 605.36 L166.1 605.23 L166.6 605.11 L167.1 605.01 L167.6 604.93 L168.1 604.87 L168.6 604.83 L169.1 604.81 L169.5 604.8 L170 604.82 L170.5 604.86 L171 604.94 L171.5 605.06 L172 605.21 L172.5 605.39 L173 605.61 L173.5 605.86 L174 606.15 L174.5 606.47 L175 606.83 L175.5 607.23 L176 607.66 L176.5 608.12 L177 608.62 L177.5 609.16 L178 609.72 L178.5 610.32 L179 610.95 L179.5 611.61 L180 612.29 L180.5 613 L181 613.74 L181.5 614.5 L182 615.27 L182.5 616.07 L183 616.88 L183.5 617.7 L184 618.53 L184.1 618.7 L184.6 617.7 L185.1 616.7 L185.6 615.71 L186.1 614.73 L186.6 613.76 L187.1 612.8 L187.6 611.86 L188.1 610.92 L188.6 610 L189.1 609.09 L189.6 608.2 L190.1 607.33 L190.6 606.47 L191.1 605.63 L191.6 604.82 L192.1 604.02 L192.6 603.24 L193.1 602.48 L193.6 601.75 L194.1 601.04 L194.6 600.35 L195.1 599.68 L195.6 599.04 L196.1 598.42 L196.6 597.83 L197.1 597.26 L197.6 596.72 L198.1 596.2 L198.6 595.71 L199.1 595.24 L199.6 594.8 L200.1 594.38 L200.6 593.99 L201.1 593.63 L201.6 593.29 L202.1 592.98 L202.6 592.7 L203.1 592.44 L203.6 592.2 L204.1 591.99 L204.6 591.81 L205.1 591.65 L205.6 591.51 L206.1 591.4 L206.6 591.32 L207.1 591.26 L207.6 591.22 L208.1 591.2 L208.2 591.2 L208.7 591.21 L209.2 591.24 L209.7 591.28 L210.2 591.35 L210.7 591.44 L211.2 591.54 L211.7 591.67 L212.2 591.81 L212.7 591.98 L213.2 592.16 L213.7 592.37 L214.2 592.6 L214.7 592.85 L215.2 593.11 L215.7 593.4 L216.2 593.72 L216.7 594.05 L217.2 594.4 L217.7 594.78 L218.2 595.17 L218.7 595.59 L219.2 596.03 L219.7 596.48 L220.2 596.96 L220.7 597.46 L221.2 597.98 L221.7 598.52 L222.2 599.08 L222.7 599.66 L223.2 600.26 L223.7 600.88 L224.2 601.52 L224.7 602.18 L225.2 602.85 L225.7 603.54 L226.2 604.25 L226.7 604.98 L227.2 605.72 L227.7 606.47 L228.2 607.25 L228.7 608.03 L229.2 608.83 L229.7 609.65 L230.2 610.47 L230.7 611.31 L231.2 612.16 L231.7 613.02 L232.2 613.89 L232.7 614.76 L233.2 615.65 L233.7 616.54 L234.2 617.44 L234.7 618.34 L234.9 618.7 L235.4 617.59 L235.9 616.49 L236.4 615.39 L236.9 614.31 L237.4 613.23 L237.9 612.16 L238.4 611.11 L238.9 610.06 L239.4 609.03 L239.9 608.02 L240.4 607.02 L240.9 606.04 L241.4 605.07 L241.9 604.12 L242.4 603.2 L242.9 602.29 L243.4 601.4 L243.9 600.53 L244.4 599.69 L244.9 598.86 L245.4 598.06 L245.9 597.28 L246.4 596.53 L246.9 595.8 L247.4 595.09 L247.9 594.41 L248.4 593.76 L248.9 593.13 L249.4 592.53 L249.9 591.95 L250.4 591.4 L250.9 590.87 L251.4 590.37 L251.9 589.9 L252.4 589.46 L252.9 589.04 L253.4 588.65 L253.9 588.28 L254.4 587.94 L254.9 587.63 L255.4 587.34 L255.9 587.08 L256.4 586.85 L256.9 586.64 L257.4 586.45 L257.9 586.3 L258.4 586.16 L258.9 586.06 L259.4 585.97 L259.9 585.91 L260.4 585.88 L260.9 585.87" fill="none" stroke="#000" stroke-width="1.7" stroke-linejoin="round" stroke-linecap="butt" clip-path="url(#c40)"/>
<g fill="#000"><circle cx="29.2" cy="596.8" r="2.05"/><circle cx="37.26" cy="609.8" r="2.05"/><circle cx="45.33" cy="616.3" r="2.05"/><circle cx="53.39" cy="604.1" r="2.05"/><circle cx="61.45" cy="593.3" r="2.05"/><circle cx="69.51" cy="581.6" r="2.05"/><circle cx="77.58" cy="582.4" r="2.05"/><circle cx="85.64" cy="597.2" r="2.05"/><circle cx="93.7" cy="617.1" r="2.05"/><circle cx="101.77" cy="604.8" r="2.05"/><circle cx="109.83" cy="593.1" r="2.05"/><circle cx="117.89" cy="585.3" r="2.05"/><circle cx="125.96" cy="587.4" r="2.05"/><circle cx="134.02" cy="598.9" r="2.05"/><circle cx="142.08" cy="606.9" r="2.05"/><circle cx="150.14" cy="617.7" r="2.05"/><circle cx="158.21" cy="614" r="2.05"/><circle cx="166.27" cy="607.7" r="2.05"/><circle cx="174.33" cy="607.7" r="2.05"/><circle cx="182.4" cy="616.3" r="2.05"/><circle cx="190.46" cy="606.9" r="2.05"/><circle cx="198.52" cy="588.5" r="2.05"/><circle cx="206.59" cy="584.9" r="2.05"/><circle cx="214.65" cy="584.3" r="2.05"/><circle cx="222.71" cy="596.4" r="2.05"/><circle cx="230.77" cy="605.2" r="2.05"/><circle cx="238.84" cy="618.8" r="2.05"/><circle cx="246.9" cy="607.3" r="2.05"/></g>
<text x="327.3" y="531.9" font-size="9.9" fill="#1a1a1a" textLength="14.9" lengthAdjust="spacingAndGlyphs">S11</text>
<text x="343.3" y="531.9" font-size="7.2" fill="#1a1a1a">：</text>
<text x="351.9" y="531.9" font-size="9.9" fill="#1a1a1a" textLength="85.4" lengthAdjust="spacingAndGlyphs">measured data [deg]</text>
<text x="327.3" y="542.3" font-size="9.9" fill="#1a1a1a" textLength="14.9" lengthAdjust="spacingAndGlyphs">S11</text>
<text x="343.3" y="542.3" font-size="7.2" fill="#1a1a1a">：</text>
<text x="351.9" y="542.3" font-size="9.9" fill="#1a1a1a" textLength="85" lengthAdjust="spacingAndGlyphs">calculated data [deg]</text>
<circle cx="452.6" cy="529.15" r="1.95" fill="#000"/>
<circle cx="468" cy="529.15" r="1.95" fill="#000"/>
<path d="M444.5 539H476.5" stroke="#000" stroke-width="1.5" fill="none"/>
<path d="M334.56 620.1v2.8M342.41 619.4v4.8M350.27 620.1v2.8M358.12 620.1v2.8M365.98 620.1v2.8M373.83 620.1v2.8M381.69 620.1v2.8M389.54 620.1v2.8M397.4 620.1v2.8M405.26 620.1v2.8M413.11 620.1v2.8M420.97 620.1v2.8M428.82 620.1v2.8M436.68 619.4v4.8M444.53 620.1v2.8M452.39 620.1v2.8M460.24 620.1v2.8M468.1 620.1v2.8M475.96 620.1v2.8M483.81 620.1v2.8M491.67 620.1v2.8M499.52 620.1v2.8M507.38 620.1v2.8M515.23 620.1v2.8M523.09 620.1v2.8M530.94 619.4v4.8" stroke="#777" stroke-width="1" fill="none"/>
<path d="M321.7 619.1h5M321.7 604.15h5M321.7 589.2h5M321.7 574.25h5M321.7 559.3h5" stroke="#777" stroke-width="1" fill="none"/>
<text x="313.48" y="623.6" font-size="10.2" fill="#1a1a1a" textLength="5.42" lengthAdjust="spacingAndGlyphs">0</text>
<text x="302.65" y="593.7" font-size="10.2" fill="#1a1a1a" textLength="16.25" lengthAdjust="spacingAndGlyphs">180</text>
<text x="302.65" y="563.8" font-size="10.2" fill="#1a1a1a" textLength="16.25" lengthAdjust="spacingAndGlyphs">360</text>
<rect x="326.7" y="559.3" width="212.1" height="59.8" fill="none" stroke="#151515" stroke-width="1.2"/>
<text x="330.52" y="635.9" font-size="10.2" fill="#1a1a1a" textLength="24.38" lengthAdjust="spacingAndGlyphs">12:00</text>
<text x="316.51" y="647.4" font-size="10.2" fill="#1a1a1a" textLength="52.0" lengthAdjust="spacingAndGlyphs">2011-05-04</text>
<text x="424.79" y="635.9" font-size="10.2" fill="#1a1a1a" textLength="24.38" lengthAdjust="spacingAndGlyphs">00:00</text>
<text x="424.52" y="647.4" font-size="10.2" fill="#1a1a1a" textLength="24.91" lengthAdjust="spacingAndGlyphs">05-05</text>
<text x="519.06" y="635.9" font-size="10.2" fill="#1a1a1a" textLength="24.38" lengthAdjust="spacingAndGlyphs">12:00</text>
<path d="M326.7 560.9 L331.4 559.2 M332 619.3 L332.4 618.62 L332.8 617.45 L333.2 615.89 L333.6 614.04 L334 612.01 L334.4 609.39 L334.8 605.64 L335.21 601.76 L335.61 598.87 L336.01 596.85 L336.41 595.08 L336.81 593.79 L337.21 593.2 L337.61 592.88 L338.01 592.6 L338.41 592.38 L338.81 592.22 L339.21 592.09 L339.61 592.02 L340.01 591.98 L340.41 591.95 L340.81 591.93 L341.21 591.9 L341.62 591.88 L342.02 591.86 L342.42 591.85 L342.82 591.83 L343.22 591.82 L343.62 591.81 L344.02 591.81 L344.42 591.8 L344.82 591.8 L345.22 591.8 L345.62 591.8 L346.02 591.8 L346.42 591.8 L346.82 591.8 L347.22 591.8 L347.63 591.8 L348.03 591.8 L348.43 591.8 L348.83 591.8 L349.23 591.8 L349.63 591.8 L350.03 591.8 L350.43 591.8 L350.83 591.8 L351.23 591.8 L351.63 591.8 L352.03 591.8 L352.43 591.8 L352.83 591.8 L353.23 591.8 L353.64 591.8 L354.04 591.8 L354.44 591.8 L354.84 591.8 L355.24 591.8 L355.64 591.8 L356.04 591.8 L356.44 591.8 L356.84 591.8 L357.24 591.8 L357.64 591.8 L358.04 591.8 L358.44 591.8 L358.84 591.8 L359.24 591.8 L359.64 591.8 L360.05 591.8 L360.45 591.8 L360.85 591.8 L361.25 591.8 L361.65 591.8 L362.05 591.8 L362.45 591.8 L362.85 591.8 L363.25 591.8 L363.65 591.8 L364.05 591.8 L364.45 591.8 L364.85 591.8 L365.25 591.8 L365.65 591.8 L366.06 591.8 L366.46 591.8 L366.86 591.8 L367.26 591.8 L367.66 591.8 L368.06 591.8 L368.46 591.8 L368.86 591.8 L369.26 591.8 L369.66 591.8 L370.06 591.8 L370.46 591.8 L370.86 591.8 L371.26 591.8 L371.66 591.8 L372.06 591.8 L372.47 591.8 L372.87 591.8 L373.27 591.8 L373.67 591.8 L374.07 591.8 L374.47 591.8 L374.87 591.8 L375.27 591.8 L375.67 591.8 L376.07 591.8 L376.47 591.8 L376.87 591.8 L377.27 591.8 L377.67 591.8 L378.07 591.8 L378.48 591.8 L378.88 591.8 L379.28 591.8 L379.68 591.8 L380.08 591.8 L380.48 591.8 L380.88 591.8 L381.28 591.8 L381.68 591.8 L382.08 591.8 L382.48 591.8 L382.88 591.8 L383.28 591.8 L383.68 591.8 L384.08 591.8 L384.49 591.8 L384.89 591.8 L385.29 591.8 L385.69 591.8 L386.09 591.8 L386.49 591.8 L386.89 591.8 L387.29 591.8 L387.69 591.8 L388.09 591.8 L388.49 591.8 L388.89 591.8 L389.29 591.8 L389.69 591.8 L390.09 591.81 L390.49 591.88 L390.9 592.02 L391.3 592.21 L391.7 592.42 L392.1 592.66 L392.5 593.02 L392.9 593.5 L393.3 594.07 L393.7 594.7 M395.2 559.9 L395.6 559.91 L396 559.92 L396.41 559.93 L396.81 559.93 L397.21 559.94 L397.61 559.95 L398.01 559.96 L398.41 559.97 L398.82 559.98 L399.22 559.99 L399.62 559.99 L400.02 560 L400.42 560.01 L400.82 560.02 L401.23 560.03 L401.63 560.04 L402.03 560.05 L402.43 560.06 L402.83 560.07 L403.23 560.08 L403.64 560.09 L404.04 560.1 L404.44 560.1 L404.84 560.11 L405.24 560.12 L405.65 560.13 L406.05 560.14 L406.45 560.15 L406.85 560.16 L407.25 560.17 L407.65 560.18 L408.06 560.19 L408.46 560.2 L408.86 560.21 L409.26 560.22 L409.66 560.23 L410.06 560.24 L410.47 560.25 L410.87 560.26 L411.27 560.27 L411.67 560.28 L412.07 560.29 L412.47 560.3 L412.88 560.31 L413.28 560.32 L413.68 560.33 L414.08 560.34 L414.48 560.35 L414.89 560.36 L415.29 560.37 L415.69 560.39 L416.09 560.4 L416.49 560.41 L416.89 560.42 L417.3 560.43 L417.7 560.44 L418.1 560.45 L418.5 560.46 L418.9 560.47 L419.3 560.48 L419.71 560.49 L420.11 560.5 L420.51 560.51 L420.91 560.53 L421.31 560.54 L421.71 560.55 L422.12 560.57 L422.52 560.58 L422.92 560.59 L423.32 560.61 L423.72 560.62 L424.13 560.64 L424.53 560.66 L424.93 560.67 L425.33 560.69 L425.73 560.7 L426.13 560.72 L426.54 560.74 L426.94 560.75 L427.34 560.77 L427.74 560.78 L428.14 560.8 L428.54 560.82 L428.95 560.83 L429.35 560.85 L429.75 560.86 L430.15 560.87 L430.55 560.89 L430.95 560.9 L431.36 560.91 L431.76 560.92 L432.16 560.94 L432.56 560.95 L432.96 560.96 L433.37 560.96 L433.77 560.97 L434.17 560.98 L434.57 560.99 L434.97 560.99 L435.37 560.99 L435.78 561 L436.18 561 L436.58 561 L436.98 560.99 L437.38 560.95 L437.78 560.89 L438.19 560.8 L438.59 560.7 L438.99 560.59 L439.39 560.47 L439.79 560.34 L440.19 560.2 L440.6 560.06 L441 559.93 L441.4 559.8 M442.5 619.3 L442.9 618.04 L443.3 616.23 L443.7 614 L444.1 611.47 L444.51 607.77 L444.91 602.99 L445.31 598.71 L445.71 596.38 L446.11 595.01 L446.51 593.96 L446.91 593.28 L447.31 592.96 L447.71 592.71 L448.11 592.5 L448.52 592.32 L448.92 592.16 L449.32 592.03 L449.72 591.93 L450.12 591.86 L450.52 591.82 L450.92 591.8 L451.32 591.78 L451.72 591.77 L452.12 591.76 L452.53 591.74 L452.93 591.73 L453.33 591.72 L453.73 591.71 L454.13 591.7 L454.53 591.7 L454.93 591.69 L455.33 591.68 L455.73 591.67 L456.13 591.67 L456.54 591.66 L456.94 591.66 L457.34 591.65 L457.74 591.65 L458.14 591.64 L458.54 591.64 L458.94 591.64 L459.34 591.64 L459.74 591.63 L460.14 591.63 L460.55 591.63 L460.95 591.63 L461.35 591.63 L461.75 591.63 L462.15 591.62 L462.55 591.62 L462.95 591.62 L463.35 591.62 L463.75 591.62 L464.15 591.62 L464.56 591.62 L464.96 591.62 L465.36 591.62 L465.76 591.61 L466.16 591.61 L466.56 591.61 L466.96 591.61 L467.36 591.61 L467.76 591.61 L468.16 591.6 L468.57 591.6 L468.97 591.6 L469.37 591.59 L469.77 591.59 L470.17 591.59 L470.57 591.58 L470.97 591.58 L471.37 591.57 L471.77 591.56 L472.17 591.56 L472.58 591.55 L472.98 591.54 L473.38 591.53 L473.78 591.53 L474.18 591.52 L474.58 591.5 L474.98 591.49 L475.38 591.48 L475.78 591.47 L476.18 591.46 L476.59 591.44 L476.99 591.43 L477.39 591.41 L477.79 591.28 L478.19 590.36 L478.59 587.18 L478.99 575.51 L479.39 564.71 L479.79 561.89 L480.19 561.05 L480.6 560.86 L481 560.73 L481.4 560.65 L481.8 560.61 L482.2 560.59 L482.6 560.58 L483 560.57 L483.4 560.56 L483.8 560.55 L484.21 560.54 L484.61 560.53 L485.01 560.52 L485.41 560.52 L485.81 560.51 L486.21 560.5 L486.61 560.49 L487.01 560.48 L487.41 560.47 L487.81 560.46 L488.22 560.45 L488.62 560.45 L489.02 560.44 L489.42 560.43 L489.82 560.42 L490.22 560.42 L490.62 560.41 L491.02 560.4 L491.42 560.4 L491.82 560.39 L492.23 560.38 L492.63 560.38 L493.03 560.37 L493.43 560.36 L493.83 560.36 L494.23 560.35 L494.63 560.35 L495.03 560.34 L495.43 560.34 L495.83 560.33 L496.24 560.33 L496.64 560.32 L497.04 560.32 L497.44 560.31 L497.84 560.31 L498.24 560.3 L498.64 560.3 L499.04 560.29 L499.44 560.29 L499.84 560.29 L500.25 560.28 L500.65 560.28 L501.05 560.27 L501.45 560.27 L501.85 560.27 L502.25 560.26 L502.65 560.26 L503.05 560.26 L503.45 560.25 L503.85 560.25 L504.26 560.25 L504.66 560.25 L505.06 560.24 L505.46 560.24 L505.86 560.24 L506.26 560.24 L506.66 560.23 L507.06 560.23 L507.46 560.23 L507.86 560.23 L508.27 560.23 L508.67 560.22 L509.07 560.22 L509.47 560.22 L509.87 560.22 L510.27 560.22 L510.67 560.22 L511.07 560.21 L511.47 560.21 L511.87 560.21 L512.28 560.21 L512.68 560.21 L513.08 560.21 L513.48 560.21 L513.88 560.21 L514.28 560.21 L514.68 560.21 L515.08 560.21 L515.48 560.2 L515.88 560.2 L516.29 560.2 L516.69 560.2 L517.09 560.2 L517.49 560.2 L517.89 560.2 L518.29 560.2 L518.69 560.2 L519.09 560.2 L519.49 560.2 L519.89 560.2 L520.3 560.2 L520.7 560.2 L521.1 560.2 L521.5 560.2 L521.9 560.2 M524.6 619.3 L525.01 616.09 L525.41 612.85 L525.82 609.59 L526.22 606.25 L526.63 602.39 L527.03 598.64 L527.44 596.03 L527.85 594.68 L528.25 593.56 L528.66 592.73 L529.06 592.26 L529.47 592.13 L529.87 592.05 L530.28 591.97 L530.69 591.91 L531.09 591.85 L531.5 591.8 L531.9 591.76 L532.31 591.73 L532.71 591.7 L533.12 591.68 L533.53 591.65 L533.93 591.63 L534.34 591.6 L534.74 591.58 L535.15 591.55 L535.55 591.53 L535.96 591.51 L536.37 591.48 L536.77 591.46 L537.18 591.45 L537.58 591.43 L537.99 591.42 L538.39 591.41 L538.8 591.4" fill="none" stroke="#000" stroke-width="1.7" stroke-linejoin="round" stroke-linecap="butt" clip-path="url(#c41)"/>
<g fill="#000"><circle cx="326.7" cy="561.9" r="2.05"/><circle cx="334.56" cy="565.5" r="2.05"/><circle cx="342.41" cy="583.2" r="2.05"/><circle cx="350.27" cy="588.5" r="2.05"/><circle cx="358.12" cy="591.6" r="2.05"/><circle cx="365.98" cy="593.1" r="2.05"/><circle cx="373.83" cy="590.5" r="2.05"/><circle cx="381.69" cy="589.9" r="2.05"/><circle cx="389.54" cy="580.5" r="2.05"/><circle cx="397.4" cy="564.4" r="2.05"/><circle cx="405.26" cy="562.9" r="2.05"/><circle cx="413.11" cy="563.4" r="2.05"/><circle cx="420.97" cy="562.3" r="2.05"/><circle cx="428.82" cy="562.3" r="2.05"/><circle cx="436.68" cy="564" r="2.05"/><circle cx="444.53" cy="571.7" r="2.05"/><circle cx="452.39" cy="588.5" r="2.05"/><circle cx="460.24" cy="589.5" r="2.05"/><circle cx="468.1" cy="590.1" r="2.05"/><circle cx="475.96" cy="583.2" r="2.05"/><circle cx="483.81" cy="564" r="2.05"/><circle cx="491.67" cy="562.3" r="2.05"/><circle cx="499.52" cy="562.9" r="2.05"/><circle cx="507.38" cy="561.7" r="2.05"/><circle cx="515.23" cy="561.3" r="2.05"/><circle cx="523.09" cy="562.9" r="2.05"/><circle cx="530.94" cy="572.1" r="2.05"/><circle cx="538.8" cy="588.5" r="2.05"/></g>
<text x="281" y="678" font-size="16" fill="#111" text-anchor="middle" font-family="'Liberation Serif', serif">(b)</text>
</svg>
</body></html>
